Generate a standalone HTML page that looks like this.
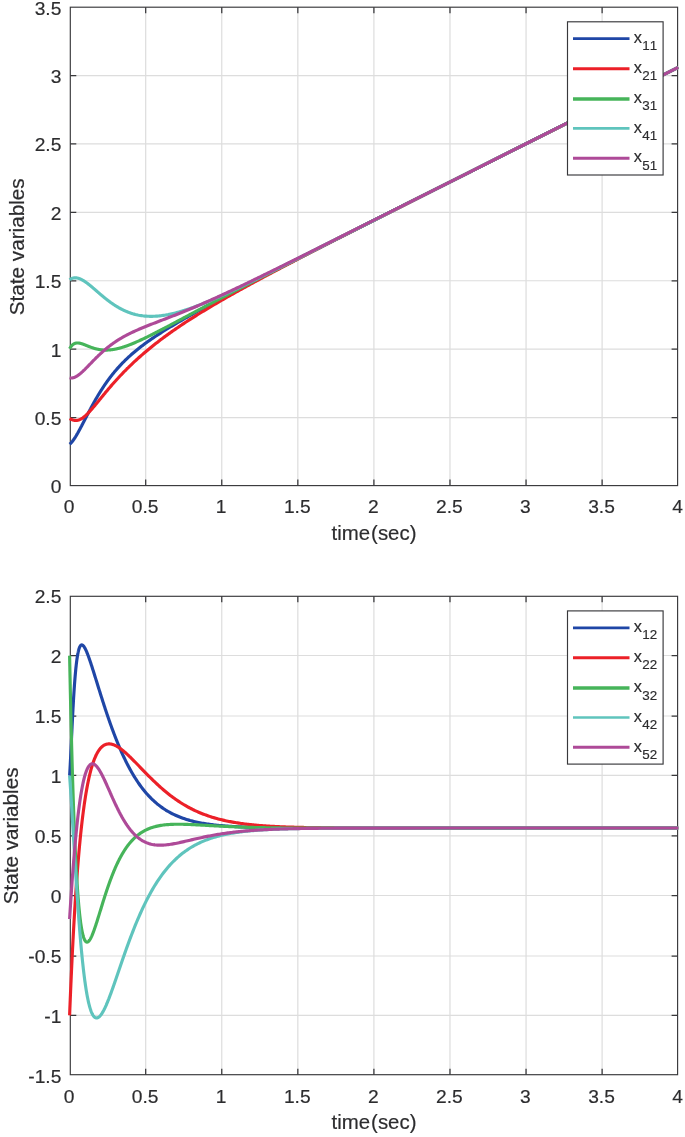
<!DOCTYPE html>
<html lang="en"><head><meta charset="utf-8"><title>State variables</title>
<style>html,body{margin:0;padding:0;background:#fff}body{width:685px;height:1137px;overflow:hidden}svg{display:block}</style>
</head><body>
<svg width="685" height="1137" viewBox="0 0 685 1137" font-family="'Liberation Sans', Arial, Helvetica, sans-serif" fill="#2c2c2e" style="font-kerning:none"><style>text{stroke:#2c2c2e;stroke-width:0.18px;paint-order:stroke}</style>
<rect width="685" height="1137" fill="#ffffff"/>
<g id="plot1">
<path d="M145.68,7.2 V485.6 M221.75,7.2 V485.6 M297.83,7.2 V485.6 M373.90,7.2 V485.6 M449.98,7.2 V485.6 M526.05,7.2 V485.6 M602.12,7.2 V485.6 M70.3,417.59 H677.6 M70.3,349.18 H677.6 M70.3,280.77 H677.6 M70.3,212.36 H677.6 M70.3,143.95 H677.6 M70.3,75.54 H677.6" stroke="#262626" stroke-opacity="0.155" stroke-width="1.2" fill="none"/>
<path d="M145.68,485.6 v-6 M145.68,7.2 v6 M221.75,485.6 v-6 M221.75,7.2 v6 M297.83,485.6 v-6 M297.83,7.2 v6 M373.90,485.6 v-6 M373.90,7.2 v6 M449.98,485.6 v-6 M449.98,7.2 v6 M526.05,485.6 v-6 M526.05,7.2 v6 M602.12,485.6 v-6 M602.12,7.2 v6 M70.3,417.59 h6 M677.6,417.59 h-6 M70.3,349.18 h6 M677.6,349.18 h-6 M70.3,280.77 h6 M677.6,280.77 h-6 M70.3,212.36 h6 M677.6,212.36 h-6 M70.3,143.95 h6 M677.6,143.95 h-6 M70.3,75.54 h6 M677.6,75.54 h-6" stroke="#38383b" stroke-width="1.25" fill="none"/>
<rect x="70.3" y="7.2" width="607.3000000000001" height="478.40000000000003" fill="none" stroke="#38383b" stroke-width="1.15"/>
<clipPath id="clip1"><rect x="67.3" y="7.2" width="612.3000000000001" height="478.40000000000003"/></clipPath>
<g clip-path="url(#clip1)" fill="none" stroke-width="3.15" stroke-linejoin="round" stroke-linecap="butt">
<path d="M69.60,444.32 L69.68,444.26 L69.75,444.20 L69.83,444.13 L69.90,444.07 L69.98,444.00 L70.06,443.93 L70.13,443.87 L70.21,443.80 L70.28,443.73 L70.36,443.65 L70.44,443.58 L70.51,443.51 L70.59,443.43 L70.67,443.35 L70.74,443.28 L70.82,443.20 L70.89,443.12 L70.97,443.04 L71.05,442.96 L71.12,442.88 L71.20,442.79 L71.27,442.71 L71.35,442.63 L71.43,442.54 L71.50,442.45 L71.58,442.37 L71.65,442.28 L71.73,442.19 L71.81,442.10 L71.88,442.01 L71.96,441.91 L72.03,441.82 L72.11,441.73 L72.19,441.63 L72.26,441.54 L72.34,441.44 L72.41,441.35 L72.49,441.25 L72.57,441.15 L72.64,441.05 L72.72,440.95 L72.80,440.85 L72.87,440.75 L72.95,440.65 L73.02,440.54 L73.10,440.44 L73.18,440.34 L73.25,440.23 L73.33,440.13 L73.40,440.02 L73.48,439.91 L73.56,439.80 L73.63,439.70 L73.71,439.59 L73.78,439.48 L73.86,439.37 L73.94,439.26 L74.01,439.14 L74.09,439.03 L74.16,438.92 L74.24,438.81 L74.32,438.69 L74.39,438.58 L74.47,438.46 L74.54,438.35 L74.62,438.23 L74.70,438.11 L74.77,437.99 L74.85,437.88 L74.93,437.76 L75.00,437.64 L75.08,437.52 L75.15,437.40 L75.23,437.28 L75.31,437.16 L75.38,437.04 L75.46,436.91 L75.53,436.79 L75.61,436.67 L75.69,436.54 L75.76,436.42 L75.84,436.29 L75.91,436.17 L75.99,436.04 L76.07,435.92 L76.14,435.79 L76.22,435.66 L76.29,435.54 L76.37,435.41 L76.45,435.28 L76.52,435.15 L76.60,435.02 L76.67,434.89 L76.75,434.76 L76.83,434.63 L76.90,434.50 L76.98,434.37 L77.06,434.24 L77.13,434.11 L77.21,433.98 L77.28,433.85 L77.36,433.71 L77.44,433.58 L77.51,433.45 L77.59,433.31 L77.66,433.18 L77.74,433.04 L77.82,432.91 L77.89,432.77 L77.97,432.64 L78.04,432.50 L78.12,432.37 L78.20,432.23 L78.27,432.09 L78.35,431.96 L78.42,431.82 L78.50,431.68 L78.58,431.55 L78.65,431.41 L78.73,431.27 L78.96,430.85 L79.19,430.43 L79.41,430.01 L79.64,429.59 L79.87,429.17 L80.10,428.74 L80.33,428.31 L80.55,427.88 L80.78,427.45 L81.01,427.02 L81.24,426.59 L81.47,426.15 L81.70,425.72 L81.92,425.28 L82.15,424.84 L82.38,424.40 L82.61,423.97 L82.84,423.53 L83.07,423.09 L83.29,422.65 L83.52,422.20 L83.75,421.76 L83.98,421.32 L84.21,420.88 L84.43,420.44 L84.66,419.99 L84.89,419.55 L85.12,419.11 L85.35,418.67 L85.58,418.22 L85.80,417.78 L86.03,417.34 L86.26,416.90 L86.49,416.46 L86.72,416.02 L86.95,415.58 L87.17,415.14 L87.40,414.70 L87.63,414.26 L87.86,413.82 L88.09,413.39 L88.31,412.95 L88.54,412.52 L88.77,412.08 L89.00,411.65 L89.23,411.21 L89.46,410.78 L89.68,410.35 L89.91,409.92 L90.14,409.49 L90.37,409.06 L90.60,408.64 L90.82,408.21 L91.05,407.78 L91.28,407.36 L91.51,406.94 L91.74,406.52 L91.97,406.10 L92.19,405.68 L92.42,405.26 L92.65,404.84 L92.88,404.43 L93.11,404.01 L93.34,403.60 L93.56,403.19 L93.79,402.78 L94.02,402.37 L94.25,401.97 L94.48,401.56 L94.70,401.16 L94.93,400.75 L95.16,400.35 L95.39,399.95 L95.62,399.55 L95.85,399.16 L96.07,398.76 L96.30,398.37 L96.53,397.97 L96.76,397.58 L96.99,397.19 L97.22,396.80 L97.44,396.42 L97.67,396.03 L97.90,395.65 L98.13,395.27 L98.36,394.89 L98.58,394.51 L98.81,394.13 L99.04,393.76 L99.27,393.38 L99.50,393.01 L99.73,392.64 L99.95,392.27 L100.18,391.90 L100.41,391.54 L100.64,391.17 L100.87,390.81 L101.10,390.45 L101.32,390.09 L101.55,389.73 L101.78,389.37 L102.01,389.02 L102.24,388.67 L102.46,388.31 L102.69,387.96 L102.92,387.62 L103.15,387.27 L103.38,386.92 L103.61,386.58 L103.83,386.24 L104.06,385.90 L104.29,385.56 L104.52,385.22 L104.75,384.88 L104.97,384.55 L105.20,384.22 L105.43,383.88 L105.66,383.55 L105.89,383.23 L106.12,382.90 L106.34,382.57 L106.57,382.25 L106.80,381.93 L107.03,381.61 L107.26,381.29 L107.49,380.97 L107.71,380.65 L107.94,380.34 L108.17,380.03 L108.40,379.71 L108.63,379.40 L108.85,379.09 L109.08,378.79 L109.31,378.48 L109.54,378.18 L109.77,377.87 L110.00,377.57 L110.22,377.27 L110.45,376.97 L110.68,376.67 L110.91,376.38 L111.14,376.08 L111.37,375.79 L111.59,375.50 L111.82,375.21 L112.05,374.92 L112.28,374.63 L112.51,374.34 L112.73,374.06 L112.96,373.77 L113.19,373.49 L113.42,373.21 L113.65,372.93 L113.88,372.65 L114.10,372.38 L114.33,372.10 L114.56,371.82 L114.79,371.55 L115.02,371.28 L115.25,371.01 L115.47,370.74 L115.70,370.47 L115.93,370.20 L116.16,369.94 L116.39,369.67 L116.61,369.41 L116.84,369.15 L117.07,368.88 L117.30,368.62 L117.53,368.37 L117.76,368.11 L117.98,367.85 L118.21,367.60 L118.44,367.34 L118.67,367.09 L118.90,366.84 L119.12,366.59 L119.35,366.34 L119.58,366.09 L119.81,365.84 L120.04,365.59 L120.27,365.35 L120.49,365.10 L120.72,364.86 L120.95,364.62 L121.18,364.38 L121.41,364.14 L121.64,363.90 L121.86,363.66 L122.09,363.42 L122.32,363.19 L122.55,362.95 L122.78,362.72 L123.00,362.49 L123.23,362.25 L123.46,362.02 L123.69,361.79 L123.92,361.56 L124.15,361.34 L124.37,361.11 L124.60,360.88 L124.83,360.66 L125.06,360.43 L125.29,360.21 L125.52,359.99 L125.74,359.76 L125.97,359.54 L126.20,359.32 L126.43,359.10 L126.66,358.89 L126.88,358.67 L127.11,358.45 L127.34,358.24 L127.57,358.02 L127.80,357.81 L128.03,357.59 L128.25,357.38 L128.48,357.17 L128.71,356.96 L128.94,356.75 L129.17,356.54 L129.39,356.33 L129.62,356.12 L129.85,355.92 L130.08,355.71 L130.31,355.51 L130.46,355.37 L131.68,354.29 L132.89,353.23 L134.11,352.19 L135.33,351.17 L136.55,350.17 L137.76,349.18 L138.98,348.21 L140.20,347.26 L141.41,346.32 L142.63,345.39 L143.85,344.48 L145.07,343.58 L146.28,342.70 L147.50,341.82 L148.72,340.95 L149.94,340.10 L151.15,339.26 L152.37,338.42 L153.59,337.60 L154.80,336.78 L156.02,335.97 L157.24,335.17 L158.46,334.37 L159.67,333.59 L160.89,332.81 L162.11,332.03 L163.32,331.27 L164.54,330.50 L165.76,329.75 L166.98,329.00 L168.19,328.25 L169.41,327.51 L170.63,326.77 L171.84,326.04 L173.06,325.31 L174.28,324.59 L175.50,323.87 L176.71,323.15 L177.93,322.44 L179.15,321.73 L180.37,321.03 L181.58,320.32 L182.80,319.62 L184.02,318.93 L185.23,318.23 L186.45,317.54 L187.67,316.85 L188.89,316.16 L190.10,315.48 L191.32,314.79 L192.54,314.11 L193.75,313.43 L194.97,312.76 L196.19,312.08 L197.41,311.41 L198.62,310.74 L199.84,310.07 L201.06,309.40 L202.27,308.73 L203.49,308.07 L204.71,307.40 L205.93,306.74 L207.14,306.08 L208.36,305.42 L209.58,304.76 L210.80,304.11 L212.01,303.45 L213.23,302.79 L214.45,302.14 L215.66,301.49 L216.88,300.84 L218.10,300.18 L219.32,299.53 L220.53,298.89 L221.75,298.24 L222.97,297.59 L224.18,296.94 L225.40,296.30 L226.62,295.65 L227.84,295.01 L229.05,294.37 L230.27,293.72 L231.49,293.08 L232.70,292.44 L233.92,291.80 L235.14,291.16 L236.36,290.52 L237.57,289.88 L238.79,289.25 L240.01,288.61 L241.23,287.97 L242.44,287.34 L243.66,286.70 L244.88,286.06 L246.09,285.43 L247.31,284.80 L248.53,284.16 L249.75,283.53 L250.96,282.90 L252.18,282.27 L253.40,281.63 L254.61,281.00 L255.83,280.37 L257.05,279.74 L258.27,279.11 L259.48,278.48 L260.70,277.85 L261.92,277.22 L263.13,276.60 L264.35,275.97 L265.57,275.34 L266.79,274.71 L268.00,274.09 L269.22,273.46 L270.44,272.83 L271.66,272.21 L272.87,271.58 L274.09,270.95 L275.31,270.33 L276.52,269.70 L277.74,269.08 L278.96,268.46 L280.18,267.83 L281.39,267.21 L282.61,266.58 L283.83,265.96 L285.04,265.34 L286.26,264.72 L287.48,264.09 L288.70,263.47 L289.91,262.85 L291.13,262.23 L292.35,261.61 L293.56,260.98 L294.78,260.36 L296.00,259.74 L297.22,259.12 L298.43,258.50 L299.65,257.88 L300.87,257.26 L302.09,256.64 L303.30,256.02 L304.52,255.40 L305.74,254.78 L306.95,254.16 L308.17,253.54 L309.39,252.92 L310.61,252.30 L311.82,251.69 L313.04,251.07 L314.26,250.45 L315.47,249.83 L316.69,249.21 L317.91,248.59 L319.13,247.98 L320.34,247.36 L321.56,246.74 L322.78,246.12 L323.99,245.51 L325.21,244.89 L326.43,244.27 L327.65,243.66 L328.86,243.04 L330.08,242.42 L331.30,241.81 L332.52,241.19 L333.73,240.57 L334.95,239.96 L336.17,239.34 L337.38,238.72 L338.60,238.11 L339.82,237.49 L341.04,236.88 L342.25,236.26 L343.47,235.65 L373.90,220.28 L404.33,204.95 L434.76,189.64 L465.19,174.34 L495.62,159.04 L526.05,143.75 L556.48,128.47 L586.91,113.18 L617.34,97.90 L647.77,82.61 L678.20,67.33" stroke="#1f46a6"/>
<path d="M69.60,418.59 L69.68,418.63 L69.75,418.66 L69.83,418.70 L69.90,418.74 L69.98,418.77 L70.06,418.81 L70.13,418.85 L70.21,418.88 L70.28,418.92 L70.36,418.96 L70.44,418.99 L70.51,419.03 L70.59,419.07 L70.67,419.10 L70.74,419.14 L70.82,419.17 L70.89,419.21 L70.97,419.24 L71.05,419.28 L71.12,419.31 L71.20,419.35 L71.27,419.38 L71.35,419.41 L71.43,419.45 L71.50,419.48 L71.58,419.51 L71.65,419.54 L71.73,419.58 L71.81,419.61 L71.88,419.64 L71.96,419.67 L72.03,419.70 L72.11,419.73 L72.19,419.76 L72.26,419.78 L72.34,419.81 L72.41,419.84 L72.49,419.87 L72.57,419.89 L72.64,419.92 L72.72,419.95 L72.80,419.97 L72.87,420.00 L72.95,420.02 L73.02,420.04 L73.10,420.07 L73.18,420.09 L73.25,420.11 L73.33,420.13 L73.40,420.15 L73.48,420.17 L73.56,420.19 L73.63,420.21 L73.71,420.23 L73.78,420.25 L73.86,420.26 L73.94,420.28 L74.01,420.29 L74.09,420.31 L74.16,420.32 L74.24,420.34 L74.32,420.35 L74.39,420.36 L74.47,420.38 L74.54,420.39 L74.62,420.40 L74.70,420.41 L74.77,420.42 L74.85,420.42 L74.93,420.43 L75.00,420.44 L75.08,420.45 L75.15,420.45 L75.23,420.46 L75.31,420.46 L75.38,420.47 L75.46,420.47 L75.53,420.47 L75.61,420.47 L75.69,420.48 L75.76,420.48 L75.84,420.48 L75.91,420.48 L75.99,420.47 L76.07,420.47 L76.14,420.47 L76.22,420.47 L76.29,420.46 L76.37,420.46 L76.45,420.45 L76.52,420.45 L76.60,420.44 L76.67,420.43 L76.75,420.42 L76.83,420.42 L76.90,420.41 L76.98,420.40 L77.06,420.38 L77.13,420.37 L77.21,420.36 L77.28,420.35 L77.36,420.34 L77.44,420.32 L77.51,420.31 L77.59,420.29 L77.66,420.28 L77.74,420.26 L77.82,420.24 L77.89,420.22 L77.97,420.20 L78.04,420.19 L78.12,420.17 L78.20,420.14 L78.27,420.12 L78.35,420.10 L78.42,420.08 L78.50,420.06 L78.58,420.03 L78.65,420.01 L78.73,419.98 L78.96,419.90 L79.19,419.82 L79.41,419.73 L79.64,419.64 L79.87,419.54 L80.10,419.43 L80.33,419.32 L80.55,419.20 L80.78,419.08 L81.01,418.96 L81.24,418.83 L81.47,418.69 L81.70,418.55 L81.92,418.41 L82.15,418.26 L82.38,418.11 L82.61,417.95 L82.84,417.79 L83.07,417.62 L83.29,417.45 L83.52,417.28 L83.75,417.10 L83.98,416.92 L84.21,416.74 L84.43,416.55 L84.66,416.36 L84.89,416.16 L85.12,415.97 L85.35,415.77 L85.58,415.56 L85.80,415.35 L86.03,415.14 L86.26,414.93 L86.49,414.71 L86.72,414.50 L86.95,414.27 L87.17,414.05 L87.40,413.82 L87.63,413.59 L87.86,413.36 L88.09,413.13 L88.31,412.89 L88.54,412.66 L88.77,412.42 L89.00,412.18 L89.23,411.93 L89.46,411.69 L89.68,411.44 L89.91,411.19 L90.14,410.94 L90.37,410.69 L90.60,410.43 L90.82,410.18 L91.05,409.92 L91.28,409.66 L91.51,409.41 L91.74,409.14 L91.97,408.88 L92.19,408.62 L92.42,408.36 L92.65,408.09 L92.88,407.82 L93.11,407.56 L93.34,407.29 L93.56,407.02 L93.79,406.75 L94.02,406.48 L94.25,406.21 L94.48,405.94 L94.70,405.66 L94.93,405.39 L95.16,405.12 L95.39,404.84 L95.62,404.57 L95.85,404.29 L96.07,404.01 L96.30,403.74 L96.53,403.46 L96.76,403.18 L96.99,402.91 L97.22,402.63 L97.44,402.35 L97.67,402.07 L97.90,401.79 L98.13,401.51 L98.36,401.24 L98.58,400.96 L98.81,400.68 L99.04,400.40 L99.27,400.12 L99.50,399.84 L99.73,399.56 L99.95,399.28 L100.18,399.00 L100.41,398.72 L100.64,398.44 L100.87,398.16 L101.10,397.88 L101.32,397.60 L101.55,397.32 L101.78,397.05 L102.01,396.77 L102.24,396.49 L102.46,396.21 L102.69,395.93 L102.92,395.65 L103.15,395.38 L103.38,395.10 L103.61,394.82 L103.83,394.54 L104.06,394.27 L104.29,393.99 L104.52,393.72 L104.75,393.44 L104.97,393.16 L105.20,392.89 L105.43,392.61 L105.66,392.34 L105.89,392.07 L106.12,391.79 L106.34,391.52 L106.57,391.25 L106.80,390.97 L107.03,390.70 L107.26,390.43 L107.49,390.16 L107.71,389.89 L107.94,389.62 L108.17,389.35 L108.40,389.08 L108.63,388.81 L108.85,388.54 L109.08,388.27 L109.31,388.00 L109.54,387.74 L109.77,387.47 L110.00,387.20 L110.22,386.94 L110.45,386.67 L110.68,386.41 L110.91,386.14 L111.14,385.88 L111.37,385.62 L111.59,385.35 L111.82,385.09 L112.05,384.83 L112.28,384.57 L112.51,384.31 L112.73,384.05 L112.96,383.79 L113.19,383.53 L113.42,383.27 L113.65,383.01 L113.88,382.75 L114.10,382.50 L114.33,382.24 L114.56,381.98 L114.79,381.73 L115.02,381.47 L115.25,381.22 L115.47,380.96 L115.70,380.71 L115.93,380.46 L116.16,380.20 L116.39,379.95 L116.61,379.70 L116.84,379.45 L117.07,379.20 L117.30,378.95 L117.53,378.70 L117.76,378.45 L117.98,378.20 L118.21,377.96 L118.44,377.71 L118.67,377.46 L118.90,377.22 L119.12,376.97 L119.35,376.73 L119.58,376.48 L119.81,376.24 L120.04,376.00 L120.27,375.75 L120.49,375.51 L120.72,375.27 L120.95,375.03 L121.18,374.79 L121.41,374.55 L121.64,374.31 L121.86,374.07 L122.09,373.83 L122.32,373.59 L122.55,373.35 L122.78,373.12 L123.00,372.88 L123.23,372.64 L123.46,372.41 L123.69,372.17 L123.92,371.94 L124.15,371.71 L124.37,371.47 L124.60,371.24 L124.83,371.01 L125.06,370.78 L125.29,370.54 L125.52,370.31 L125.74,370.08 L125.97,369.85 L126.20,369.62 L126.43,369.40 L126.66,369.17 L126.88,368.94 L127.11,368.71 L127.34,368.48 L127.57,368.26 L127.80,368.03 L128.03,367.81 L128.25,367.58 L128.48,367.36 L128.71,367.13 L128.94,366.91 L129.17,366.69 L129.39,366.47 L129.62,366.24 L129.85,366.02 L130.08,365.80 L130.31,365.58 L130.46,365.43 L131.68,364.27 L132.89,363.11 L134.11,361.97 L135.33,360.84 L136.55,359.73 L137.76,358.63 L138.98,357.53 L140.20,356.45 L141.41,355.38 L142.63,354.33 L143.85,353.28 L145.07,352.24 L146.28,351.21 L147.50,350.20 L148.72,349.19 L149.94,348.19 L151.15,347.21 L152.37,346.23 L153.59,345.26 L154.80,344.30 L156.02,343.34 L157.24,342.40 L158.46,341.46 L159.67,340.53 L160.89,339.61 L162.11,338.70 L163.32,337.79 L164.54,336.89 L165.76,336.00 L166.98,335.12 L168.19,334.24 L169.41,333.37 L170.63,332.50 L171.84,331.64 L173.06,330.79 L174.28,329.94 L175.50,329.10 L176.71,328.26 L177.93,327.43 L179.15,326.60 L180.37,325.78 L181.58,324.97 L182.80,324.16 L184.02,323.35 L185.23,322.55 L186.45,321.75 L187.67,320.96 L188.89,320.17 L190.10,319.39 L191.32,318.61 L192.54,317.84 L193.75,317.07 L194.97,316.30 L196.19,315.54 L197.41,314.78 L198.62,314.02 L199.84,313.27 L201.06,312.52 L202.27,311.77 L203.49,311.03 L204.71,310.29 L205.93,309.55 L207.14,308.82 L208.36,308.09 L209.58,307.36 L210.80,306.64 L212.01,305.92 L213.23,305.20 L214.45,304.48 L215.66,303.77 L216.88,303.05 L218.10,302.35 L219.32,301.64 L220.53,300.93 L221.75,300.23 L222.97,299.53 L224.18,298.83 L225.40,298.14 L226.62,297.45 L227.84,296.75 L229.05,296.06 L230.27,295.38 L231.49,294.69 L232.70,294.01 L233.92,293.32 L235.14,292.64 L236.36,291.96 L237.57,291.29 L238.79,290.61 L240.01,289.94 L241.23,289.26 L242.44,288.59 L243.66,287.92 L244.88,287.25 L246.09,286.59 L247.31,285.92 L248.53,285.26 L249.75,284.59 L250.96,283.93 L252.18,283.27 L253.40,282.61 L254.61,281.95 L255.83,281.30 L257.05,280.64 L258.27,279.99 L259.48,279.33 L260.70,278.68 L261.92,278.03 L263.13,277.38 L264.35,276.73 L265.57,276.08 L266.79,275.43 L268.00,274.78 L269.22,274.14 L270.44,273.49 L271.66,272.85 L272.87,272.20 L274.09,271.56 L275.31,270.92 L276.52,270.28 L277.74,269.64 L278.96,269.00 L280.18,268.36 L281.39,267.72 L282.61,267.08 L283.83,266.44 L285.04,265.81 L286.26,265.17 L287.48,264.54 L288.70,263.90 L289.91,263.27 L291.13,262.63 L292.35,262.00 L293.56,261.37 L294.78,260.73 L296.00,260.10 L297.22,259.47 L298.43,258.84 L299.65,258.21 L300.87,257.58 L302.09,256.95 L303.30,256.32 L304.52,255.69 L305.74,255.07 L306.95,254.44 L308.17,253.81 L309.39,253.18 L310.61,252.56 L311.82,251.93 L313.04,251.31 L314.26,250.68 L315.47,250.06 L316.69,249.43 L317.91,248.81 L319.13,248.18 L320.34,247.56 L321.56,246.93 L322.78,246.31 L323.99,245.69 L325.21,245.07 L326.43,244.44 L327.65,243.82 L328.86,243.20 L330.08,242.58 L331.30,241.96 L332.52,241.34 L333.73,240.72 L334.95,240.09 L336.17,239.47 L337.38,238.85 L338.60,238.23 L339.82,237.61 L341.04,237.00 L342.25,236.38 L343.47,235.76 L373.90,220.33 L404.33,204.97 L434.76,189.64 L465.19,174.34 L495.62,159.04 L526.05,143.75 L556.48,128.47 L586.91,113.18 L617.34,97.90 L647.77,82.61 L678.20,67.33" stroke="#ec2028"/>
<path d="M69.60,348.82 L69.68,348.68 L69.75,348.55 L69.83,348.41 L69.90,348.28 L69.98,348.14 L70.06,348.01 L70.13,347.89 L70.21,347.76 L70.28,347.64 L70.36,347.52 L70.44,347.40 L70.51,347.28 L70.59,347.17 L70.67,347.06 L70.74,346.95 L70.82,346.84 L70.89,346.73 L70.97,346.63 L71.05,346.53 L71.12,346.43 L71.20,346.33 L71.27,346.23 L71.35,346.14 L71.43,346.04 L71.50,345.95 L71.58,345.86 L71.65,345.77 L71.73,345.69 L71.81,345.60 L71.88,345.52 L71.96,345.44 L72.03,345.36 L72.11,345.28 L72.19,345.21 L72.26,345.13 L72.34,345.06 L72.41,344.99 L72.49,344.92 L72.57,344.85 L72.64,344.79 L72.72,344.72 L72.80,344.66 L72.87,344.60 L72.95,344.53 L73.02,344.48 L73.10,344.42 L73.18,344.36 L73.25,344.31 L73.33,344.25 L73.40,344.20 L73.48,344.15 L73.56,344.10 L73.63,344.05 L73.71,344.00 L73.78,343.96 L73.86,343.91 L73.94,343.87 L74.01,343.83 L74.09,343.79 L74.16,343.75 L74.24,343.71 L74.32,343.67 L74.39,343.63 L74.47,343.60 L74.54,343.57 L74.62,343.53 L74.70,343.50 L74.77,343.47 L74.85,343.44 L74.93,343.41 L75.00,343.38 L75.08,343.36 L75.15,343.33 L75.23,343.31 L75.31,343.28 L75.38,343.26 L75.46,343.24 L75.53,343.22 L75.61,343.20 L75.69,343.18 L75.76,343.16 L75.84,343.14 L75.91,343.13 L75.99,343.11 L76.07,343.10 L76.14,343.08 L76.22,343.07 L76.29,343.06 L76.37,343.05 L76.45,343.04 L76.52,343.03 L76.60,343.02 L76.67,343.01 L76.75,343.00 L76.83,343.00 L76.90,342.99 L76.98,342.99 L77.06,342.98 L77.13,342.98 L77.21,342.97 L77.28,342.97 L77.36,342.97 L77.44,342.97 L77.51,342.97 L77.59,342.97 L77.66,342.97 L77.74,342.97 L77.82,342.97 L77.89,342.98 L77.97,342.98 L78.04,342.98 L78.12,342.99 L78.20,342.99 L78.27,343.00 L78.35,343.01 L78.42,343.01 L78.50,343.02 L78.58,343.03 L78.65,343.04 L78.73,343.05 L78.96,343.08 L79.19,343.11 L79.41,343.15 L79.64,343.19 L79.87,343.24 L80.10,343.29 L80.33,343.34 L80.55,343.40 L80.78,343.45 L81.01,343.52 L81.24,343.58 L81.47,343.65 L81.70,343.72 L81.92,343.79 L82.15,343.86 L82.38,343.94 L82.61,344.02 L82.84,344.10 L83.07,344.18 L83.29,344.26 L83.52,344.35 L83.75,344.43 L83.98,344.52 L84.21,344.60 L84.43,344.69 L84.66,344.78 L84.89,344.87 L85.12,344.96 L85.35,345.05 L85.58,345.14 L85.80,345.24 L86.03,345.33 L86.26,345.42 L86.49,345.51 L86.72,345.60 L86.95,345.70 L87.17,345.79 L87.40,345.88 L87.63,345.97 L87.86,346.07 L88.09,346.16 L88.31,346.25 L88.54,346.34 L88.77,346.43 L89.00,346.52 L89.23,346.61 L89.46,346.70 L89.68,346.78 L89.91,346.87 L90.14,346.96 L90.37,347.04 L90.60,347.13 L90.82,347.21 L91.05,347.30 L91.28,347.38 L91.51,347.46 L91.74,347.54 L91.97,347.62 L92.19,347.70 L92.42,347.78 L92.65,347.85 L92.88,347.93 L93.11,348.00 L93.34,348.07 L93.56,348.15 L93.79,348.22 L94.02,348.29 L94.25,348.36 L94.48,348.42 L94.70,348.49 L94.93,348.55 L95.16,348.62 L95.39,348.68 L95.62,348.74 L95.85,348.80 L96.07,348.86 L96.30,348.91 L96.53,348.97 L96.76,349.02 L96.99,349.08 L97.22,349.13 L97.44,349.18 L97.67,349.23 L97.90,349.28 L98.13,349.32 L98.36,349.37 L98.58,349.41 L98.81,349.45 L99.04,349.49 L99.27,349.53 L99.50,349.57 L99.73,349.61 L99.95,349.64 L100.18,349.68 L100.41,349.71 L100.64,349.74 L100.87,349.77 L101.10,349.80 L101.32,349.82 L101.55,349.85 L101.78,349.87 L102.01,349.90 L102.24,349.92 L102.46,349.94 L102.69,349.96 L102.92,349.98 L103.15,349.99 L103.38,350.01 L103.61,350.02 L103.83,350.03 L104.06,350.04 L104.29,350.05 L104.52,350.06 L104.75,350.07 L104.97,350.08 L105.20,350.08 L105.43,350.08 L105.66,350.09 L105.89,350.09 L106.12,350.09 L106.34,350.08 L106.57,350.08 L106.80,350.08 L107.03,350.07 L107.26,350.07 L107.49,350.06 L107.71,350.05 L107.94,350.04 L108.17,350.03 L108.40,350.01 L108.63,350.00 L108.85,349.98 L109.08,349.97 L109.31,349.95 L109.54,349.93 L109.77,349.91 L110.00,349.89 L110.22,349.87 L110.45,349.85 L110.68,349.82 L110.91,349.80 L111.14,349.77 L111.37,349.75 L111.59,349.72 L111.82,349.69 L112.05,349.66 L112.28,349.63 L112.51,349.59 L112.73,349.56 L112.96,349.53 L113.19,349.49 L113.42,349.45 L113.65,349.42 L113.88,349.38 L114.10,349.34 L114.33,349.30 L114.56,349.26 L114.79,349.21 L115.02,349.17 L115.25,349.13 L115.47,349.08 L115.70,349.03 L115.93,348.99 L116.16,348.94 L116.39,348.89 L116.61,348.84 L116.84,348.79 L117.07,348.74 L117.30,348.69 L117.53,348.63 L117.76,348.58 L117.98,348.52 L118.21,348.47 L118.44,348.41 L118.67,348.36 L118.90,348.30 L119.12,348.24 L119.35,348.18 L119.58,348.12 L119.81,348.06 L120.04,348.00 L120.27,347.93 L120.49,347.87 L120.72,347.80 L120.95,347.74 L121.18,347.67 L121.41,347.61 L121.64,347.54 L121.86,347.47 L122.09,347.40 L122.32,347.34 L122.55,347.27 L122.78,347.19 L123.00,347.12 L123.23,347.05 L123.46,346.98 L123.69,346.91 L123.92,346.83 L124.15,346.76 L124.37,346.68 L124.60,346.61 L124.83,346.53 L125.06,346.45 L125.29,346.38 L125.52,346.30 L125.74,346.22 L125.97,346.14 L126.20,346.06 L126.43,345.98 L126.66,345.90 L126.88,345.82 L127.11,345.74 L127.34,345.65 L127.57,345.57 L127.80,345.49 L128.03,345.40 L128.25,345.32 L128.48,345.23 L128.71,345.15 L128.94,345.06 L129.17,344.97 L129.39,344.89 L129.62,344.80 L129.85,344.71 L130.08,344.62 L130.31,344.53 L130.46,344.47 L131.68,343.99 L132.89,343.49 L134.11,342.98 L135.33,342.46 L136.55,341.93 L137.76,341.39 L138.98,340.85 L140.20,340.29 L141.41,339.73 L142.63,339.16 L143.85,338.58 L145.07,337.99 L146.28,337.40 L147.50,336.81 L148.72,336.21 L149.94,335.60 L151.15,334.99 L152.37,334.38 L153.59,333.76 L154.80,333.14 L156.02,332.52 L157.24,331.89 L158.46,331.27 L159.67,330.63 L160.89,330.00 L162.11,329.36 L163.32,328.73 L164.54,328.09 L165.76,327.45 L166.98,326.81 L168.19,326.16 L169.41,325.52 L170.63,324.87 L171.84,324.23 L173.06,323.58 L174.28,322.93 L175.50,322.29 L176.71,321.64 L177.93,320.99 L179.15,320.34 L180.37,319.69 L181.58,319.04 L182.80,318.40 L184.02,317.75 L185.23,317.10 L186.45,316.45 L187.67,315.80 L188.89,315.15 L190.10,314.50 L191.32,313.85 L192.54,313.21 L193.75,312.56 L194.97,311.91 L196.19,311.26 L197.41,310.62 L198.62,309.97 L199.84,309.32 L201.06,308.68 L202.27,308.03 L203.49,307.39 L204.71,306.74 L205.93,306.10 L207.14,305.46 L208.36,304.81 L209.58,304.17 L210.80,303.53 L212.01,302.89 L213.23,302.25 L214.45,301.61 L215.66,300.97 L216.88,300.33 L218.10,299.69 L219.32,299.05 L220.53,298.41 L221.75,297.77 L222.97,297.14 L224.18,296.50 L225.40,295.86 L226.62,295.23 L227.84,294.59 L229.05,293.96 L230.27,293.32 L231.49,292.69 L232.70,292.06 L233.92,291.42 L235.14,290.79 L236.36,290.16 L237.57,289.53 L238.79,288.89 L240.01,288.26 L241.23,287.63 L242.44,287.00 L243.66,286.37 L244.88,285.74 L246.09,285.11 L247.31,284.49 L248.53,283.86 L249.75,283.23 L250.96,282.60 L252.18,281.98 L253.40,281.35 L254.61,280.72 L255.83,280.10 L257.05,279.47 L258.27,278.84 L259.48,278.22 L260.70,277.59 L261.92,276.97 L263.13,276.34 L264.35,275.72 L265.57,275.10 L266.79,274.47 L268.00,273.85 L269.22,273.23 L270.44,272.60 L271.66,271.98 L272.87,271.36 L274.09,270.74 L275.31,270.12 L276.52,269.49 L277.74,268.87 L278.96,268.25 L280.18,267.63 L281.39,267.01 L282.61,266.39 L283.83,265.77 L285.04,265.15 L286.26,264.53 L287.48,263.91 L288.70,263.29 L289.91,262.67 L291.13,262.05 L292.35,261.43 L293.56,260.81 L294.78,260.20 L296.00,259.58 L297.22,258.96 L298.43,258.34 L299.65,257.72 L300.87,257.11 L302.09,256.49 L303.30,255.87 L304.52,255.25 L305.74,254.64 L306.95,254.02 L308.17,253.40 L309.39,252.79 L310.61,252.17 L311.82,251.55 L313.04,250.94 L314.26,250.32 L315.47,249.70 L316.69,249.09 L317.91,248.47 L319.13,247.86 L320.34,247.24 L321.56,246.62 L322.78,246.01 L323.99,245.39 L325.21,244.78 L326.43,244.16 L327.65,243.55 L328.86,242.93 L330.08,242.32 L331.30,241.70 L332.52,241.09 L333.73,240.47 L334.95,239.86 L336.17,239.24 L337.38,238.63 L338.60,238.02 L339.82,237.40 L341.04,236.79 L342.25,236.17 L343.47,235.56 L373.90,220.22 L404.33,204.91 L434.76,189.61 L465.19,174.32 L495.62,159.03 L526.05,143.75 L556.48,128.46 L586.91,113.18 L617.34,97.90 L647.77,82.61 L678.20,67.33" stroke="#46b45a"/>
<path d="M69.60,279.81 L69.68,279.75 L69.75,279.70 L69.83,279.64 L69.90,279.59 L69.98,279.53 L70.06,279.48 L70.13,279.43 L70.21,279.38 L70.28,279.33 L70.36,279.28 L70.44,279.23 L70.51,279.18 L70.59,279.14 L70.67,279.09 L70.74,279.05 L70.82,279.00 L70.89,278.96 L70.97,278.92 L71.05,278.88 L71.12,278.84 L71.20,278.80 L71.27,278.76 L71.35,278.72 L71.43,278.69 L71.50,278.65 L71.58,278.61 L71.65,278.58 L71.73,278.55 L71.81,278.51 L71.88,278.48 L71.96,278.45 L72.03,278.42 L72.11,278.39 L72.19,278.36 L72.26,278.34 L72.34,278.31 L72.41,278.28 L72.49,278.26 L72.57,278.23 L72.64,278.21 L72.72,278.19 L72.80,278.16 L72.87,278.14 L72.95,278.12 L73.02,278.10 L73.10,278.08 L73.18,278.06 L73.25,278.04 L73.33,278.03 L73.40,278.01 L73.48,278.00 L73.56,277.98 L73.63,277.97 L73.71,277.95 L73.78,277.94 L73.86,277.93 L73.94,277.92 L74.01,277.90 L74.09,277.89 L74.16,277.89 L74.24,277.88 L74.32,277.87 L74.39,277.86 L74.47,277.85 L74.54,277.85 L74.62,277.84 L74.70,277.84 L74.77,277.83 L74.85,277.83 L74.93,277.83 L75.00,277.82 L75.08,277.82 L75.15,277.82 L75.23,277.82 L75.31,277.82 L75.38,277.82 L75.46,277.82 L75.53,277.83 L75.61,277.83 L75.69,277.83 L75.76,277.84 L75.84,277.84 L75.91,277.84 L75.99,277.85 L76.07,277.86 L76.14,277.86 L76.22,277.87 L76.29,277.88 L76.37,277.89 L76.45,277.90 L76.52,277.90 L76.60,277.91 L76.67,277.93 L76.75,277.94 L76.83,277.95 L76.90,277.96 L76.98,277.97 L77.06,277.99 L77.13,278.00 L77.21,278.01 L77.28,278.03 L77.36,278.04 L77.44,278.06 L77.51,278.08 L77.59,278.09 L77.66,278.11 L77.74,278.13 L77.82,278.15 L77.89,278.17 L77.97,278.18 L78.04,278.20 L78.12,278.22 L78.20,278.24 L78.27,278.27 L78.35,278.29 L78.42,278.31 L78.50,278.33 L78.58,278.36 L78.65,278.38 L78.73,278.40 L78.96,278.48 L79.19,278.56 L79.41,278.64 L79.64,278.72 L79.87,278.81 L80.10,278.91 L80.33,279.00 L80.55,279.10 L80.78,279.21 L81.01,279.31 L81.24,279.42 L81.47,279.54 L81.70,279.65 L81.92,279.77 L82.15,279.89 L82.38,280.02 L82.61,280.15 L82.84,280.28 L83.07,280.41 L83.29,280.54 L83.52,280.68 L83.75,280.82 L83.98,280.97 L84.21,281.11 L84.43,281.26 L84.66,281.41 L84.89,281.56 L85.12,281.71 L85.35,281.87 L85.58,282.03 L85.80,282.19 L86.03,282.35 L86.26,282.51 L86.49,282.67 L86.72,282.84 L86.95,283.01 L87.17,283.18 L87.40,283.35 L87.63,283.52 L87.86,283.70 L88.09,283.87 L88.31,284.05 L88.54,284.23 L88.77,284.41 L89.00,284.59 L89.23,284.77 L89.46,284.95 L89.68,285.13 L89.91,285.32 L90.14,285.50 L90.37,285.69 L90.60,285.88 L90.82,286.07 L91.05,286.25 L91.28,286.44 L91.51,286.63 L91.74,286.83 L91.97,287.02 L92.19,287.21 L92.42,287.40 L92.65,287.60 L92.88,287.79 L93.11,287.99 L93.34,288.18 L93.56,288.38 L93.79,288.57 L94.02,288.77 L94.25,288.96 L94.48,289.16 L94.70,289.36 L94.93,289.55 L95.16,289.75 L95.39,289.95 L95.62,290.15 L95.85,290.35 L96.07,290.54 L96.30,290.74 L96.53,290.94 L96.76,291.14 L96.99,291.33 L97.22,291.53 L97.44,291.73 L97.67,291.93 L97.90,292.13 L98.13,292.32 L98.36,292.52 L98.58,292.72 L98.81,292.91 L99.04,293.11 L99.27,293.31 L99.50,293.50 L99.73,293.70 L99.95,293.90 L100.18,294.09 L100.41,294.29 L100.64,294.48 L100.87,294.67 L101.10,294.87 L101.32,295.06 L101.55,295.25 L101.78,295.45 L102.01,295.64 L102.24,295.83 L102.46,296.02 L102.69,296.21 L102.92,296.40 L103.15,296.59 L103.38,296.78 L103.61,296.97 L103.83,297.16 L104.06,297.34 L104.29,297.53 L104.52,297.72 L104.75,297.90 L104.97,298.09 L105.20,298.27 L105.43,298.45 L105.66,298.63 L105.89,298.82 L106.12,299.00 L106.34,299.18 L106.57,299.36 L106.80,299.54 L107.03,299.71 L107.26,299.89 L107.49,300.07 L107.71,300.24 L107.94,300.42 L108.17,300.59 L108.40,300.77 L108.63,300.94 L108.85,301.11 L109.08,301.28 L109.31,301.45 L109.54,301.62 L109.77,301.79 L110.00,301.96 L110.22,302.12 L110.45,302.29 L110.68,302.45 L110.91,302.62 L111.14,302.78 L111.37,302.94 L111.59,303.11 L111.82,303.27 L112.05,303.42 L112.28,303.58 L112.51,303.74 L112.73,303.90 L112.96,304.05 L113.19,304.21 L113.42,304.36 L113.65,304.51 L113.88,304.67 L114.10,304.82 L114.33,304.97 L114.56,305.12 L114.79,305.26 L115.02,305.41 L115.25,305.56 L115.47,305.70 L115.70,305.85 L115.93,305.99 L116.16,306.13 L116.39,306.27 L116.61,306.41 L116.84,306.55 L117.07,306.69 L117.30,306.83 L117.53,306.96 L117.76,307.10 L117.98,307.23 L118.21,307.36 L118.44,307.50 L118.67,307.63 L118.90,307.76 L119.12,307.89 L119.35,308.01 L119.58,308.14 L119.81,308.27 L120.04,308.39 L120.27,308.51 L120.49,308.64 L120.72,308.76 L120.95,308.88 L121.18,309.00 L121.41,309.12 L121.64,309.23 L121.86,309.35 L122.09,309.47 L122.32,309.58 L122.55,309.69 L122.78,309.81 L123.00,309.92 L123.23,310.03 L123.46,310.14 L123.69,310.25 L123.92,310.35 L124.15,310.46 L124.37,310.56 L124.60,310.67 L124.83,310.77 L125.06,310.87 L125.29,310.97 L125.52,311.07 L125.74,311.17 L125.97,311.27 L126.20,311.37 L126.43,311.46 L126.66,311.56 L126.88,311.65 L127.11,311.75 L127.34,311.84 L127.57,311.93 L127.80,312.02 L128.03,312.11 L128.25,312.20 L128.48,312.28 L128.71,312.37 L128.94,312.45 L129.17,312.54 L129.39,312.62 L129.62,312.70 L129.85,312.78 L130.08,312.86 L130.31,312.94 L130.46,312.99 L131.68,313.39 L132.89,313.77 L134.11,314.11 L135.33,314.43 L136.55,314.72 L137.76,314.99 L138.98,315.23 L140.20,315.44 L141.41,315.63 L142.63,315.80 L143.85,315.94 L145.07,316.06 L146.28,316.15 L147.50,316.23 L148.72,316.28 L149.94,316.31 L151.15,316.32 L152.37,316.31 L153.59,316.28 L154.80,316.23 L156.02,316.16 L157.24,316.08 L158.46,315.97 L159.67,315.85 L160.89,315.72 L162.11,315.56 L163.32,315.39 L164.54,315.21 L165.76,315.01 L166.98,314.79 L168.19,314.57 L169.41,314.32 L170.63,314.07 L171.84,313.80 L173.06,313.52 L174.28,313.23 L175.50,312.93 L176.71,312.61 L177.93,312.28 L179.15,311.95 L180.37,311.60 L181.58,311.24 L182.80,310.88 L184.02,310.50 L185.23,310.12 L186.45,309.72 L187.67,309.32 L188.89,308.91 L190.10,308.49 L191.32,308.07 L192.54,307.64 L193.75,307.20 L194.97,306.75 L196.19,306.30 L197.41,305.84 L198.62,305.37 L199.84,304.90 L201.06,304.42 L202.27,303.94 L203.49,303.45 L204.71,302.96 L205.93,302.46 L207.14,301.96 L208.36,301.45 L209.58,300.94 L210.80,300.43 L212.01,299.91 L213.23,299.38 L214.45,298.86 L215.66,298.33 L216.88,297.79 L218.10,297.25 L219.32,296.71 L220.53,296.17 L221.75,295.62 L222.97,295.07 L224.18,294.52 L225.40,293.96 L226.62,293.40 L227.84,292.84 L229.05,292.28 L230.27,291.71 L231.49,291.15 L232.70,290.58 L233.92,290.01 L235.14,289.43 L236.36,288.86 L237.57,288.28 L238.79,287.70 L240.01,287.12 L241.23,286.54 L242.44,285.96 L243.66,285.37 L244.88,284.79 L246.09,284.20 L247.31,283.61 L248.53,283.02 L249.75,282.43 L250.96,281.84 L252.18,281.24 L253.40,280.65 L254.61,280.05 L255.83,279.46 L257.05,278.86 L258.27,278.26 L259.48,277.66 L260.70,277.06 L261.92,276.46 L263.13,275.86 L264.35,275.26 L265.57,274.66 L266.79,274.05 L268.00,273.45 L269.22,272.85 L270.44,272.24 L271.66,271.64 L272.87,271.03 L274.09,270.42 L275.31,269.82 L276.52,269.21 L277.74,268.60 L278.96,268.00 L280.18,267.39 L281.39,266.78 L282.61,266.17 L283.83,265.56 L285.04,264.95 L286.26,264.34 L287.48,263.73 L288.70,263.12 L289.91,262.51 L291.13,261.90 L292.35,261.29 L293.56,260.68 L294.78,260.07 L296.00,259.46 L297.22,258.85 L298.43,258.24 L299.65,257.62 L300.87,257.01 L302.09,256.40 L303.30,255.79 L304.52,255.18 L305.74,254.56 L306.95,253.95 L308.17,253.34 L309.39,252.73 L310.61,252.11 L311.82,251.50 L313.04,250.89 L314.26,250.27 L315.47,249.66 L316.69,249.05 L317.91,248.44 L319.13,247.82 L320.34,247.21 L321.56,246.60 L322.78,245.98 L323.99,245.37 L325.21,244.76 L326.43,244.14 L327.65,243.53 L328.86,242.92 L330.08,242.30 L331.30,241.69 L332.52,241.08 L333.73,240.46 L334.95,239.85 L336.17,239.24 L337.38,238.62 L338.60,238.01 L339.82,237.40 L341.04,236.78 L342.25,236.17 L343.47,235.56 L373.90,220.23 L404.33,204.92 L434.76,189.62 L465.19,174.32 L495.62,159.03 L526.05,143.75 L556.48,128.46 L586.91,113.18 L617.34,97.90 L647.77,82.61 L678.20,67.33" stroke="#5fc4bd"/>
<path d="M69.60,377.72 L69.68,377.74 L69.75,377.76 L69.83,377.78 L69.90,377.80 L69.98,377.82 L70.06,377.84 L70.13,377.86 L70.21,377.87 L70.28,377.89 L70.36,377.90 L70.44,377.91 L70.51,377.92 L70.59,377.93 L70.67,377.94 L70.74,377.95 L70.82,377.96 L70.89,377.97 L70.97,377.97 L71.05,377.98 L71.12,377.98 L71.20,377.98 L71.27,377.99 L71.35,377.99 L71.43,377.99 L71.50,377.99 L71.58,377.99 L71.65,377.98 L71.73,377.98 L71.81,377.98 L71.88,377.97 L71.96,377.97 L72.03,377.96 L72.11,377.95 L72.19,377.94 L72.26,377.94 L72.34,377.93 L72.41,377.92 L72.49,377.90 L72.57,377.89 L72.64,377.88 L72.72,377.86 L72.80,377.85 L72.87,377.84 L72.95,377.82 L73.02,377.80 L73.10,377.78 L73.18,377.77 L73.25,377.75 L73.33,377.73 L73.40,377.71 L73.48,377.69 L73.56,377.66 L73.63,377.64 L73.71,377.62 L73.78,377.60 L73.86,377.57 L73.94,377.55 L74.01,377.52 L74.09,377.49 L74.16,377.47 L74.24,377.44 L74.32,377.41 L74.39,377.38 L74.47,377.35 L74.54,377.32 L74.62,377.29 L74.70,377.26 L74.77,377.23 L74.85,377.19 L74.93,377.16 L75.00,377.13 L75.08,377.09 L75.15,377.06 L75.23,377.02 L75.31,376.98 L75.38,376.95 L75.46,376.91 L75.53,376.87 L75.61,376.83 L75.69,376.79 L75.76,376.75 L75.84,376.71 L75.91,376.67 L75.99,376.63 L76.07,376.59 L76.14,376.55 L76.22,376.51 L76.29,376.46 L76.37,376.42 L76.45,376.37 L76.52,376.33 L76.60,376.28 L76.67,376.24 L76.75,376.19 L76.83,376.15 L76.90,376.10 L76.98,376.05 L77.06,376.00 L77.13,375.95 L77.21,375.91 L77.28,375.86 L77.36,375.81 L77.44,375.76 L77.51,375.71 L77.59,375.65 L77.66,375.60 L77.74,375.55 L77.82,375.50 L77.89,375.45 L77.97,375.39 L78.04,375.34 L78.12,375.28 L78.20,375.23 L78.27,375.18 L78.35,375.12 L78.42,375.07 L78.50,375.01 L78.58,374.95 L78.65,374.90 L78.73,374.84 L78.96,374.67 L79.19,374.49 L79.41,374.31 L79.64,374.13 L79.87,373.94 L80.10,373.76 L80.33,373.57 L80.55,373.37 L80.78,373.18 L81.01,372.98 L81.24,372.78 L81.47,372.58 L81.70,372.38 L81.92,372.17 L82.15,371.96 L82.38,371.75 L82.61,371.54 L82.84,371.33 L83.07,371.11 L83.29,370.90 L83.52,370.68 L83.75,370.46 L83.98,370.24 L84.21,370.02 L84.43,369.79 L84.66,369.57 L84.89,369.34 L85.12,369.12 L85.35,368.89 L85.58,368.66 L85.80,368.43 L86.03,368.20 L86.26,367.97 L86.49,367.74 L86.72,367.51 L86.95,367.27 L87.17,367.04 L87.40,366.81 L87.63,366.57 L87.86,366.34 L88.09,366.10 L88.31,365.87 L88.54,365.63 L88.77,365.40 L89.00,365.16 L89.23,364.93 L89.46,364.69 L89.68,364.45 L89.91,364.22 L90.14,363.98 L90.37,363.74 L90.60,363.51 L90.82,363.27 L91.05,363.04 L91.28,362.80 L91.51,362.56 L91.74,362.33 L91.97,362.09 L92.19,361.86 L92.42,361.62 L92.65,361.39 L92.88,361.15 L93.11,360.92 L93.34,360.69 L93.56,360.45 L93.79,360.22 L94.02,359.99 L94.25,359.76 L94.48,359.53 L94.70,359.30 L94.93,359.07 L95.16,358.84 L95.39,358.61 L95.62,358.38 L95.85,358.15 L96.07,357.93 L96.30,357.70 L96.53,357.47 L96.76,357.25 L96.99,357.03 L97.22,356.80 L97.44,356.58 L97.67,356.36 L97.90,356.14 L98.13,355.91 L98.36,355.69 L98.58,355.48 L98.81,355.26 L99.04,355.04 L99.27,354.82 L99.50,354.61 L99.73,354.39 L99.95,354.18 L100.18,353.96 L100.41,353.75 L100.64,353.54 L100.87,353.33 L101.10,353.12 L101.32,352.91 L101.55,352.70 L101.78,352.50 L102.01,352.29 L102.24,352.08 L102.46,351.88 L102.69,351.67 L102.92,351.47 L103.15,351.27 L103.38,351.07 L103.61,350.87 L103.83,350.67 L104.06,350.47 L104.29,350.27 L104.52,350.08 L104.75,349.88 L104.97,349.69 L105.20,349.49 L105.43,349.30 L105.66,349.11 L105.89,348.92 L106.12,348.73 L106.34,348.54 L106.57,348.35 L106.80,348.17 L107.03,347.98 L107.26,347.79 L107.49,347.61 L107.71,347.43 L107.94,347.24 L108.17,347.06 L108.40,346.88 L108.63,346.70 L108.85,346.52 L109.08,346.35 L109.31,346.17 L109.54,345.99 L109.77,345.82 L110.00,345.64 L110.22,345.47 L110.45,345.30 L110.68,345.13 L110.91,344.96 L111.14,344.79 L111.37,344.62 L111.59,344.45 L111.82,344.28 L112.05,344.12 L112.28,343.95 L112.51,343.79 L112.73,343.62 L112.96,343.46 L113.19,343.30 L113.42,343.14 L113.65,342.98 L113.88,342.82 L114.10,342.66 L114.33,342.50 L114.56,342.35 L114.79,342.19 L115.02,342.04 L115.25,341.88 L115.47,341.73 L115.70,341.58 L115.93,341.42 L116.16,341.27 L116.39,341.12 L116.61,340.97 L116.84,340.83 L117.07,340.68 L117.30,340.53 L117.53,340.38 L117.76,340.24 L117.98,340.09 L118.21,339.95 L118.44,339.81 L118.67,339.66 L118.90,339.52 L119.12,339.38 L119.35,339.24 L119.58,339.10 L119.81,338.96 L120.04,338.83 L120.27,338.69 L120.49,338.55 L120.72,338.42 L120.95,338.28 L121.18,338.15 L121.41,338.01 L121.64,337.88 L121.86,337.75 L122.09,337.61 L122.32,337.48 L122.55,337.35 L122.78,337.22 L123.00,337.09 L123.23,336.96 L123.46,336.84 L123.69,336.71 L123.92,336.58 L124.15,336.45 L124.37,336.33 L124.60,336.20 L124.83,336.08 L125.06,335.96 L125.29,335.83 L125.52,335.71 L125.74,335.59 L125.97,335.47 L126.20,335.34 L126.43,335.22 L126.66,335.10 L126.88,334.99 L127.11,334.87 L127.34,334.75 L127.57,334.63 L127.80,334.51 L128.03,334.40 L128.25,334.28 L128.48,334.16 L128.71,334.05 L128.94,333.93 L129.17,333.82 L129.39,333.71 L129.62,333.59 L129.85,333.48 L130.08,333.37 L130.31,333.26 L130.46,333.18 L131.68,332.59 L132.89,332.02 L134.11,331.45 L135.33,330.90 L136.55,330.35 L137.76,329.82 L138.98,329.29 L140.20,328.77 L141.41,328.26 L142.63,327.75 L143.85,327.25 L145.07,326.75 L146.28,326.26 L147.50,325.78 L148.72,325.29 L149.94,324.81 L151.15,324.34 L152.37,323.86 L153.59,323.39 L154.80,322.92 L156.02,322.45 L157.24,321.99 L158.46,321.52 L159.67,321.05 L160.89,320.59 L162.11,320.12 L163.32,319.65 L164.54,319.18 L165.76,318.72 L166.98,318.25 L168.19,317.78 L169.41,317.31 L170.63,316.83 L171.84,316.36 L173.06,315.88 L174.28,315.41 L175.50,314.93 L176.71,314.45 L177.93,313.96 L179.15,313.48 L180.37,312.99 L181.58,312.50 L182.80,312.01 L184.02,311.52 L185.23,311.02 L186.45,310.52 L187.67,310.02 L188.89,309.52 L190.10,309.01 L191.32,308.51 L192.54,308.00 L193.75,307.48 L194.97,306.97 L196.19,306.45 L197.41,305.93 L198.62,305.41 L199.84,304.89 L201.06,304.36 L202.27,303.83 L203.49,303.30 L204.71,302.77 L205.93,302.24 L207.14,301.70 L208.36,301.16 L209.58,300.62 L210.80,300.08 L212.01,299.53 L213.23,298.99 L214.45,298.44 L215.66,297.89 L216.88,297.34 L218.10,296.78 L219.32,296.23 L220.53,295.67 L221.75,295.11 L222.97,294.55 L224.18,293.99 L225.40,293.43 L226.62,292.86 L227.84,292.29 L229.05,291.73 L230.27,291.16 L231.49,290.59 L232.70,290.01 L233.92,289.44 L235.14,288.87 L236.36,288.29 L237.57,287.71 L238.79,287.14 L240.01,286.56 L241.23,285.98 L242.44,285.39 L243.66,284.81 L244.88,284.23 L246.09,283.64 L247.31,283.06 L248.53,282.47 L249.75,281.89 L250.96,281.30 L252.18,280.71 L253.40,280.12 L254.61,279.53 L255.83,278.94 L257.05,278.35 L258.27,277.75 L259.48,277.16 L260.70,276.57 L261.92,275.97 L263.13,275.38 L264.35,274.78 L265.57,274.19 L266.79,273.59 L268.00,272.99 L269.22,272.40 L270.44,271.80 L271.66,271.20 L272.87,270.60 L274.09,270.00 L275.31,269.40 L276.52,268.80 L277.74,268.20 L278.96,267.60 L280.18,266.99 L281.39,266.39 L282.61,265.79 L283.83,265.19 L285.04,264.58 L286.26,263.98 L287.48,263.38 L288.70,262.77 L289.91,262.17 L291.13,261.56 L292.35,260.96 L293.56,260.36 L294.78,259.75 L296.00,259.14 L297.22,258.54 L298.43,257.93 L299.65,257.33 L300.87,256.72 L302.09,256.11 L303.30,255.51 L304.52,254.90 L305.74,254.29 L306.95,253.69 L308.17,253.08 L309.39,252.47 L310.61,251.86 L311.82,251.25 L313.04,250.65 L314.26,250.04 L315.47,249.43 L316.69,248.82 L317.91,248.21 L319.13,247.61 L320.34,247.00 L321.56,246.39 L322.78,245.78 L323.99,245.17 L325.21,244.56 L326.43,243.95 L327.65,243.34 L328.86,242.73 L330.08,242.12 L331.30,241.51 L332.52,240.90 L333.73,240.29 L334.95,239.68 L336.17,239.07 L337.38,238.46 L338.60,237.86 L339.82,237.25 L341.04,236.64 L342.25,236.02 L343.47,235.41 L373.90,220.15 L404.33,204.87 L434.76,189.59 L465.19,174.31 L495.62,159.03 L526.05,143.74 L556.48,128.46 L586.91,113.18 L617.34,97.90 L647.77,82.61 L678.20,67.33" stroke="#ae4a98"/>
</g>
<g font-size="19.2">
<text x="69.00" y="513.40" text-anchor="middle">0</text>
<text x="145.08" y="513.40" text-anchor="middle">0.5</text>
<text x="221.15" y="513.40" text-anchor="middle">1</text>
<text x="297.23" y="513.40" text-anchor="middle">1.5</text>
<text x="373.30" y="513.40" text-anchor="middle">2</text>
<text x="449.38" y="513.40" text-anchor="middle">2.5</text>
<text x="525.45" y="513.40" text-anchor="middle">3</text>
<text x="601.52" y="513.40" text-anchor="middle">3.5</text>
<text x="677.60" y="513.40" text-anchor="middle">4</text>
<text x="61.40" y="493.45" text-anchor="end">0</text>
<text x="61.40" y="425.04" text-anchor="end">0.5</text>
<text x="61.40" y="356.63" text-anchor="end">1</text>
<text x="61.40" y="288.22" text-anchor="end">1.5</text>
<text x="61.40" y="219.81" text-anchor="end">2</text>
<text x="61.40" y="151.40" text-anchor="end">2.5</text>
<text x="61.40" y="82.99" text-anchor="end">3</text>
<text x="61.40" y="14.58" text-anchor="end">3.5</text>
</g>
<text x="373.95" y="539.60" font-size="20.4" text-anchor="middle">time<tspan dx="1.1">(sec)</tspan></text>
<text transform="translate(24.2,246.80) rotate(-90)" font-size="20.7" text-anchor="middle">State variables</text>
<rect x="567.5" y="21.80" width="95.60000000000002" height="153.20" fill="#ffffff" stroke="#38383b" stroke-width="1.15"/>
<path d="M573,38.70 H629.5" stroke="#1f46a6" stroke-width="2.7" fill="none"/>
<text x="633.8" y="42.90" font-size="16.4">x<tspan dy="7.2" font-size="13.4" dx="0.3">11</tspan></text>
<path d="M573,68.70 H629.5" stroke="#ec2028" stroke-width="2.9" fill="none"/>
<text x="633.8" y="72.90" font-size="16.4">x<tspan dy="7.2" font-size="13.4" dx="0.3">21</tspan></text>
<path d="M573,99.00 H629.5" stroke="#46b45a" stroke-width="3.5" fill="none"/>
<text x="633.8" y="103.20" font-size="16.4">x<tspan dy="7.2" font-size="13.4" dx="0.3">31</tspan></text>
<path d="M573,128.40 H629.5" stroke="#5fc4bd" stroke-width="2.7" fill="none"/>
<text x="633.8" y="132.60" font-size="16.4">x<tspan dy="7.2" font-size="13.4" dx="0.3">41</tspan></text>
<path d="M573,158.20 H629.5" stroke="#ae4a98" stroke-width="3.0" fill="none"/>
<text x="633.8" y="162.40" font-size="16.4">x<tspan dy="7.2" font-size="13.4" dx="0.3">51</tspan></text>
</g>
<g id="plot2">
<path d="M145.68,596.3 V1074.7 M221.75,596.3 V1074.7 M297.83,596.3 V1074.7 M373.90,596.3 V1074.7 M449.98,596.3 V1074.7 M526.05,596.3 V1074.7 M602.12,596.3 V1074.7 M70.3,1015.30 H677.6 M70.3,956.00 H677.6 M70.3,895.50 H677.6 M70.3,835.80 H677.6 M70.3,775.30 H677.6 M70.3,716.00 H677.6 M70.3,655.50 H677.6" stroke="#262626" stroke-opacity="0.155" stroke-width="1.2" fill="none"/>
<path d="M145.68,1074.7 v-6 M145.68,596.3 v6 M221.75,1074.7 v-6 M221.75,596.3 v6 M297.83,1074.7 v-6 M297.83,596.3 v6 M373.90,1074.7 v-6 M373.90,596.3 v6 M449.98,1074.7 v-6 M449.98,596.3 v6 M526.05,1074.7 v-6 M526.05,596.3 v6 M602.12,1074.7 v-6 M602.12,596.3 v6 M70.3,1015.30 h6 M677.6,1015.30 h-6 M70.3,956.00 h6 M677.6,956.00 h-6 M70.3,895.50 h6 M677.6,895.50 h-6 M70.3,835.80 h6 M677.6,835.80 h-6 M70.3,775.30 h6 M677.6,775.30 h-6 M70.3,716.00 h6 M677.6,716.00 h-6 M70.3,655.50 h6 M677.6,655.50 h-6" stroke="#38383b" stroke-width="1.25" fill="none"/>
<rect x="70.3" y="596.3" width="607.3000000000001" height="478.4000000000001" fill="none" stroke="#38383b" stroke-width="1.15"/>
<clipPath id="clip2"><rect x="67.3" y="596.3" width="612.3000000000001" height="478.4000000000001"/></clipPath>
<g clip-path="url(#clip2)" fill="none" stroke-width="3.15" stroke-linejoin="round" stroke-linecap="butt">
<path d="M69.60,775.57 L69.68,774.44 L69.75,773.25 L69.83,772.02 L69.90,770.75 L69.98,769.44 L70.06,768.09 L70.13,766.70 L70.21,765.29 L70.28,763.84 L70.36,762.37 L70.44,760.88 L70.51,759.36 L70.59,757.83 L70.67,756.28 L70.74,754.72 L70.82,753.14 L70.89,751.56 L70.97,749.97 L71.05,748.36 L71.12,746.76 L71.20,745.15 L71.27,743.54 L71.35,741.93 L71.43,740.31 L71.50,738.70 L71.58,737.10 L71.65,735.49 L71.73,733.90 L71.81,732.30 L71.88,730.72 L71.96,729.14 L72.03,727.58 L72.11,726.02 L72.19,724.47 L72.26,722.93 L72.34,721.41 L72.41,719.89 L72.49,718.39 L72.57,716.91 L72.64,715.43 L72.72,713.97 L72.80,712.53 L72.87,711.10 L72.95,709.69 L73.02,708.29 L73.10,706.91 L73.18,705.54 L73.25,704.19 L73.33,702.86 L73.40,701.54 L73.48,700.24 L73.56,698.96 L73.63,697.70 L73.71,696.45 L73.78,695.22 L73.86,694.01 L73.94,692.82 L74.01,691.64 L74.09,690.49 L74.16,689.35 L74.24,688.22 L74.32,687.12 L74.39,686.03 L74.47,684.97 L74.54,683.91 L74.62,682.88 L74.70,681.87 L74.77,680.87 L74.85,679.89 L74.93,678.92 L75.00,677.98 L75.08,677.05 L75.15,676.14 L75.23,675.24 L75.31,674.37 L75.38,673.51 L75.46,672.66 L75.53,671.83 L75.61,671.02 L75.69,670.23 L75.76,669.45 L75.84,668.69 L75.91,667.94 L75.99,667.21 L76.07,666.49 L76.14,665.79 L76.22,665.10 L76.29,664.43 L76.37,663.78 L76.45,663.13 L76.52,662.51 L76.60,661.89 L76.67,661.30 L76.75,660.71 L76.83,660.14 L76.90,659.58 L76.98,659.04 L77.06,658.51 L77.13,657.99 L77.21,657.48 L77.28,656.99 L77.36,656.51 L77.44,656.05 L77.51,655.59 L77.59,655.15 L77.66,654.72 L77.74,654.30 L77.82,653.89 L77.89,653.49 L77.97,653.11 L78.04,652.73 L78.12,652.37 L78.20,652.02 L78.27,651.68 L78.35,651.35 L78.42,651.02 L78.50,650.71 L78.58,650.41 L78.65,650.12 L78.73,649.84 L78.96,649.05 L79.19,648.34 L79.41,647.71 L79.64,647.16 L79.87,646.67 L80.10,646.25 L80.33,645.90 L80.55,645.60 L80.78,645.36 L81.01,645.18 L81.24,645.05 L81.47,644.96 L81.70,644.92 L81.92,644.93 L82.15,644.98 L82.38,645.07 L82.61,645.19 L82.84,645.35 L83.07,645.55 L83.29,645.77 L83.52,646.03 L83.75,646.31 L83.98,646.62 L84.21,646.96 L84.43,647.32 L84.66,647.70 L84.89,648.10 L85.12,648.53 L85.35,648.97 L85.58,649.43 L85.80,649.91 L86.03,650.41 L86.26,650.92 L86.49,651.44 L86.72,651.98 L86.95,652.53 L87.17,653.09 L87.40,653.67 L87.63,654.25 L87.86,654.85 L88.09,655.45 L88.31,656.07 L88.54,656.69 L88.77,657.32 L89.00,657.96 L89.23,658.61 L89.46,659.26 L89.68,659.92 L89.91,660.59 L90.14,661.26 L90.37,661.93 L90.60,662.62 L90.82,663.30 L91.05,663.99 L91.28,664.69 L91.51,665.38 L91.74,666.09 L91.97,666.79 L92.19,667.50 L92.42,668.21 L92.65,668.93 L92.88,669.64 L93.11,670.36 L93.34,671.08 L93.56,671.80 L93.79,672.53 L94.02,673.26 L94.25,673.98 L94.48,674.71 L94.70,675.44 L94.93,676.17 L95.16,676.91 L95.39,677.64 L95.62,678.37 L95.85,679.11 L96.07,679.84 L96.30,680.58 L96.53,681.31 L96.76,682.05 L96.99,682.78 L97.22,683.52 L97.44,684.26 L97.67,684.99 L97.90,685.73 L98.13,686.46 L98.36,687.19 L98.58,687.93 L98.81,688.66 L99.04,689.39 L99.27,690.12 L99.50,690.85 L99.73,691.58 L99.95,692.31 L100.18,693.04 L100.41,693.77 L100.64,694.49 L100.87,695.22 L101.10,695.94 L101.32,696.66 L101.55,697.38 L101.78,698.10 L102.01,698.82 L102.24,699.54 L102.46,700.25 L102.69,700.96 L102.92,701.67 L103.15,702.38 L103.38,703.09 L103.61,703.80 L103.83,704.50 L104.06,705.21 L104.29,705.91 L104.52,706.61 L104.75,707.30 L104.97,708.00 L105.20,708.69 L105.43,709.39 L105.66,710.07 L105.89,710.76 L106.12,711.45 L106.34,712.13 L106.57,712.81 L106.80,713.49 L107.03,714.17 L107.26,714.84 L107.49,715.51 L107.71,716.18 L107.94,716.85 L108.17,717.52 L108.40,718.18 L108.63,718.84 L108.85,719.50 L109.08,720.16 L109.31,720.81 L109.54,721.46 L109.77,722.11 L110.00,722.76 L110.22,723.40 L110.45,724.04 L110.68,724.68 L110.91,725.32 L111.14,725.95 L111.37,726.58 L111.59,727.21 L111.82,727.84 L112.05,728.46 L112.28,729.09 L112.51,729.70 L112.73,730.32 L112.96,730.93 L113.19,731.55 L113.42,732.15 L113.65,732.76 L113.88,733.36 L114.10,733.96 L114.33,734.56 L114.56,735.16 L114.79,735.75 L115.02,736.34 L115.25,736.93 L115.47,737.51 L115.70,738.09 L115.93,738.67 L116.16,739.25 L116.39,739.82 L116.61,740.39 L116.84,740.96 L117.07,741.53 L117.30,742.09 L117.53,742.65 L117.76,743.21 L117.98,743.76 L118.21,744.32 L118.44,744.87 L118.67,745.41 L118.90,745.96 L119.12,746.50 L119.35,747.04 L119.58,747.57 L119.81,748.11 L120.04,748.64 L120.27,749.17 L120.49,749.69 L120.72,750.21 L120.95,750.73 L121.18,751.25 L121.41,751.77 L121.64,752.28 L121.86,752.79 L122.09,753.29 L122.32,753.80 L122.55,754.30 L122.78,754.80 L123.00,755.29 L123.23,755.79 L123.46,756.28 L123.69,756.76 L123.92,757.25 L124.15,757.73 L124.37,758.21 L124.60,758.69 L124.83,759.16 L125.06,759.64 L125.29,760.11 L125.52,760.57 L125.74,761.04 L125.97,761.50 L126.20,761.96 L126.43,762.41 L126.66,762.87 L126.88,763.32 L127.11,763.77 L127.34,764.21 L127.57,764.66 L127.80,765.10 L128.03,765.54 L128.25,765.97 L128.48,766.41 L128.71,766.84 L128.94,767.27 L129.17,767.69 L129.39,768.12 L129.62,768.54 L129.85,768.96 L130.08,769.37 L130.31,769.79 L130.46,770.06 L131.68,772.22 L132.89,774.30 L134.11,776.32 L135.33,778.28 L136.55,780.17 L137.76,782.00 L138.98,783.76 L140.20,785.47 L141.41,787.12 L142.63,788.71 L143.85,790.24 L145.07,791.72 L146.28,793.15 L147.50,794.53 L148.72,795.86 L149.94,797.14 L151.15,798.38 L152.37,799.57 L153.59,800.71 L154.80,801.81 L156.02,802.87 L157.24,803.90 L158.46,804.88 L159.67,805.83 L160.89,806.73 L162.11,807.61 L163.32,808.45 L164.54,809.26 L165.76,810.04 L166.98,810.78 L168.19,811.50 L169.41,812.19 L170.63,812.85 L171.84,813.49 L173.06,814.10 L174.28,814.69 L175.50,815.25 L176.71,815.79 L177.93,816.31 L179.15,816.81 L180.37,817.29 L181.58,817.74 L182.80,818.18 L184.02,818.61 L185.23,819.01 L186.45,819.40 L187.67,819.77 L188.89,820.12 L190.10,820.47 L191.32,820.79 L192.54,821.11 L193.75,821.41 L194.97,821.70 L196.19,821.97 L197.41,822.24 L198.62,822.49 L199.84,822.73 L201.06,822.96 L202.27,823.19 L203.49,823.40 L204.71,823.60 L205.93,823.80 L207.14,823.98 L208.36,824.16 L209.58,824.33 L210.80,824.50 L212.01,824.65 L213.23,824.80 L214.45,824.95 L215.66,825.09 L216.88,825.22 L218.10,825.34 L219.32,825.46 L220.53,825.58 L221.75,825.69 L222.97,825.79 L224.18,825.89 L225.40,825.99 L226.62,826.08 L227.84,826.17 L229.05,826.25 L230.27,826.33 L231.49,826.41 L232.70,826.48 L233.92,826.55 L235.14,826.62 L236.36,826.69 L237.57,826.75 L238.79,826.81 L240.01,826.86 L241.23,826.91 L242.44,826.97 L243.66,827.01 L244.88,827.06 L246.09,827.11 L247.31,827.15 L248.53,827.19 L249.75,827.23 L250.96,827.26 L252.18,827.30 L253.40,827.33 L254.61,827.37 L255.83,827.40 L257.05,827.43 L258.27,827.45 L259.48,827.48 L260.70,827.51 L261.92,827.53 L263.13,827.55 L264.35,827.58 L265.57,827.60 L266.79,827.62 L268.00,827.64 L269.22,827.66 L270.44,827.67 L271.66,827.69 L272.87,827.71 L274.09,827.72 L275.31,827.74 L276.52,827.75 L277.74,827.76 L278.96,827.78 L280.18,827.79 L281.39,827.80 L282.61,827.81 L283.83,827.82 L285.04,827.83 L286.26,827.84 L287.48,827.85 L288.70,827.86 L289.91,827.87 L291.13,827.88 L292.35,827.88 L293.56,827.89 L294.78,827.90 L296.00,827.90 L297.22,827.91 L298.43,827.92 L299.65,827.92 L300.87,827.93 L302.09,827.93 L303.30,827.94 L304.52,827.94 L305.74,827.95 L306.95,827.95 L308.17,827.96 L309.39,827.96 L310.61,827.96 L311.82,827.97 L313.04,827.97 L314.26,827.97 L315.47,827.98 L316.69,827.98 L317.91,827.98 L319.13,827.99 L320.34,827.99 L321.56,827.99 L322.78,827.99 L323.99,827.99 L325.21,828.00 L326.43,828.00 L327.65,828.00 L328.86,828.00 L330.08,828.00 L331.30,828.01 L332.52,828.01 L333.73,828.01 L334.95,828.01 L336.17,828.01 L337.38,828.01 L338.60,828.01 L339.82,828.02 L341.04,828.02 L342.25,828.02 L343.47,828.02 L373.90,828.03 L404.33,828.04 L434.76,828.04 L465.19,828.04 L495.62,828.04 L526.05,828.04 L556.48,828.04 L586.91,828.04 L617.34,828.04 L647.77,828.04 L678.20,828.04" stroke="#1f46a6"/>
<path d="M69.60,1015.43 L69.68,1013.50 L69.75,1011.58 L69.83,1009.67 L69.90,1007.78 L69.98,1005.90 L70.06,1004.03 L70.13,1002.17 L70.21,1000.33 L70.28,998.50 L70.36,996.68 L70.44,994.87 L70.51,993.07 L70.59,991.29 L70.67,989.52 L70.74,987.75 L70.82,986.00 L70.89,984.27 L70.97,982.54 L71.05,980.82 L71.12,979.12 L71.20,977.43 L71.27,975.74 L71.35,974.07 L71.43,972.41 L71.50,970.76 L71.58,969.12 L71.65,967.50 L71.73,965.88 L71.81,964.27 L71.88,962.68 L71.96,961.09 L72.03,959.52 L72.11,957.95 L72.19,956.40 L72.26,954.85 L72.34,953.32 L72.41,951.80 L72.49,950.28 L72.57,948.78 L72.64,947.28 L72.72,945.80 L72.80,944.32 L72.87,942.86 L72.95,941.40 L73.02,939.96 L73.10,938.52 L73.18,937.09 L73.25,935.68 L73.33,934.27 L73.40,932.87 L73.48,931.48 L73.56,930.10 L73.63,928.73 L73.71,927.37 L73.78,926.01 L73.86,924.67 L73.94,923.33 L74.01,922.01 L74.09,920.69 L74.16,919.38 L74.24,918.08 L74.32,916.78 L74.39,915.50 L74.47,914.23 L74.54,912.96 L74.62,911.70 L74.70,910.45 L74.77,909.21 L74.85,907.97 L74.93,906.75 L75.00,905.53 L75.08,904.32 L75.15,903.12 L75.23,901.93 L75.31,900.74 L75.38,899.56 L75.46,898.39 L75.53,897.23 L75.61,896.07 L75.69,894.93 L75.76,893.79 L75.84,892.66 L75.91,891.53 L75.99,890.41 L76.07,889.30 L76.14,888.20 L76.22,887.11 L76.29,886.02 L76.37,884.94 L76.45,883.87 L76.52,882.80 L76.60,881.74 L76.67,880.69 L76.75,879.64 L76.83,878.60 L76.90,877.57 L76.98,876.55 L77.06,875.53 L77.13,874.52 L77.21,873.52 L77.28,872.52 L77.36,871.53 L77.44,870.54 L77.51,869.56 L77.59,868.59 L77.66,867.63 L77.74,866.67 L77.82,865.72 L77.89,864.77 L77.97,863.83 L78.04,862.90 L78.12,861.97 L78.20,861.05 L78.27,860.14 L78.35,859.23 L78.42,858.33 L78.50,857.43 L78.58,856.54 L78.65,855.66 L78.73,854.78 L78.96,852.18 L79.19,849.63 L79.41,847.13 L79.64,844.68 L79.87,842.28 L80.10,839.93 L80.33,837.63 L80.55,835.37 L80.78,833.16 L81.01,831.00 L81.24,828.87 L81.47,826.79 L81.70,824.75 L81.92,822.76 L82.15,820.80 L82.38,818.88 L82.61,817.01 L82.84,815.17 L83.07,813.37 L83.29,811.60 L83.52,809.87 L83.75,808.18 L83.98,806.52 L84.21,804.90 L84.43,803.31 L84.66,801.75 L84.89,800.23 L85.12,798.74 L85.35,797.28 L85.58,795.85 L85.80,794.45 L86.03,793.08 L86.26,791.73 L86.49,790.42 L86.72,789.13 L86.95,787.88 L87.17,786.65 L87.40,785.44 L87.63,784.26 L87.86,783.11 L88.09,781.98 L88.31,780.88 L88.54,779.80 L88.77,778.74 L89.00,777.71 L89.23,776.70 L89.46,775.72 L89.68,774.75 L89.91,773.81 L90.14,772.89 L90.37,771.99 L90.60,771.11 L90.82,770.25 L91.05,769.40 L91.28,768.58 L91.51,767.78 L91.74,767.00 L91.97,766.23 L92.19,765.49 L92.42,764.76 L92.65,764.05 L92.88,763.35 L93.11,762.68 L93.34,762.01 L93.56,761.37 L93.79,760.74 L94.02,760.13 L94.25,759.53 L94.48,758.95 L94.70,758.38 L94.93,757.83 L95.16,757.29 L95.39,756.77 L95.62,756.25 L95.85,755.76 L96.07,755.27 L96.30,754.80 L96.53,754.35 L96.76,753.90 L96.99,753.47 L97.22,753.05 L97.44,752.64 L97.67,752.25 L97.90,751.86 L98.13,751.49 L98.36,751.13 L98.58,750.78 L98.81,750.44 L99.04,750.11 L99.27,749.79 L99.50,749.48 L99.73,749.18 L99.95,748.90 L100.18,748.62 L100.41,748.35 L100.64,748.09 L100.87,747.84 L101.10,747.60 L101.32,747.37 L101.55,747.14 L101.78,746.93 L102.01,746.72 L102.24,746.53 L102.46,746.34 L102.69,746.16 L102.92,745.98 L103.15,745.82 L103.38,745.66 L103.61,745.51 L103.83,745.37 L104.06,745.24 L104.29,745.11 L104.52,744.99 L104.75,744.87 L104.97,744.77 L105.20,744.67 L105.43,744.57 L105.66,744.49 L105.89,744.41 L106.12,744.33 L106.34,744.26 L106.57,744.20 L106.80,744.15 L107.03,744.10 L107.26,744.05 L107.49,744.01 L107.71,743.98 L107.94,743.95 L108.17,743.93 L108.40,743.91 L108.63,743.90 L108.85,743.89 L109.08,743.89 L109.31,743.90 L109.54,743.90 L109.77,743.92 L110.00,743.94 L110.22,743.96 L110.45,743.99 L110.68,744.02 L110.91,744.05 L111.14,744.09 L111.37,744.14 L111.59,744.19 L111.82,744.24 L112.05,744.30 L112.28,744.36 L112.51,744.42 L112.73,744.49 L112.96,744.56 L113.19,744.64 L113.42,744.72 L113.65,744.80 L113.88,744.89 L114.10,744.98 L114.33,745.07 L114.56,745.17 L114.79,745.27 L115.02,745.37 L115.25,745.48 L115.47,745.59 L115.70,745.70 L115.93,745.81 L116.16,745.93 L116.39,746.05 L116.61,746.18 L116.84,746.30 L117.07,746.43 L117.30,746.57 L117.53,746.70 L117.76,746.84 L117.98,746.98 L118.21,747.12 L118.44,747.27 L118.67,747.41 L118.90,747.56 L119.12,747.72 L119.35,747.87 L119.58,748.03 L119.81,748.19 L120.04,748.35 L120.27,748.51 L120.49,748.68 L120.72,748.84 L120.95,749.01 L121.18,749.18 L121.41,749.36 L121.64,749.53 L121.86,749.71 L122.09,749.88 L122.32,750.07 L122.55,750.25 L122.78,750.43 L123.00,750.62 L123.23,750.80 L123.46,750.99 L123.69,751.18 L123.92,751.37 L124.15,751.56 L124.37,751.76 L124.60,751.96 L124.83,752.15 L125.06,752.35 L125.29,752.55 L125.52,752.75 L125.74,752.95 L125.97,753.16 L126.20,753.36 L126.43,753.57 L126.66,753.78 L126.88,753.98 L127.11,754.19 L127.34,754.40 L127.57,754.61 L127.80,754.83 L128.03,755.04 L128.25,755.26 L128.48,755.47 L128.71,755.69 L128.94,755.90 L129.17,756.12 L129.39,756.34 L129.62,756.56 L129.85,756.78 L130.08,757.00 L130.31,757.22 L130.46,757.37 L131.68,758.57 L132.89,759.79 L134.11,761.02 L135.33,762.26 L136.55,763.51 L137.76,764.76 L138.98,766.02 L140.20,767.28 L141.41,768.55 L142.63,769.81 L143.85,771.06 L145.07,772.31 L146.28,773.56 L147.50,774.79 L148.72,776.02 L149.94,777.24 L151.15,778.44 L152.37,779.64 L153.59,780.82 L154.80,781.98 L156.02,783.14 L157.24,784.27 L158.46,785.39 L159.67,786.50 L160.89,787.58 L162.11,788.65 L163.32,789.71 L164.54,790.74 L165.76,791.76 L166.98,792.75 L168.19,793.73 L169.41,794.69 L170.63,795.63 L171.84,796.55 L173.06,797.45 L174.28,798.34 L175.50,799.20 L176.71,800.05 L177.93,800.88 L179.15,801.68 L180.37,802.47 L181.58,803.24 L182.80,804.00 L184.02,804.73 L185.23,805.45 L186.45,806.14 L187.67,806.83 L188.89,807.49 L190.10,808.13 L191.32,808.76 L192.54,809.38 L193.75,809.97 L194.97,810.55 L196.19,811.12 L197.41,811.67 L198.62,812.20 L199.84,812.72 L201.06,813.22 L202.27,813.71 L203.49,814.19 L204.71,814.65 L205.93,815.10 L207.14,815.53 L208.36,815.96 L209.58,816.37 L210.80,816.76 L212.01,817.15 L213.23,817.52 L214.45,817.88 L215.66,818.23 L216.88,818.57 L218.10,818.90 L219.32,819.22 L220.53,819.53 L221.75,819.83 L222.97,820.12 L224.18,820.40 L225.40,820.67 L226.62,820.93 L227.84,821.19 L229.05,821.43 L230.27,821.67 L231.49,821.90 L232.70,822.12 L233.92,822.33 L235.14,822.54 L236.36,822.74 L237.57,822.93 L238.79,823.12 L240.01,823.30 L241.23,823.48 L242.44,823.64 L243.66,823.81 L244.88,823.96 L246.09,824.11 L247.31,824.26 L248.53,824.40 L249.75,824.54 L250.96,824.67 L252.18,824.79 L253.40,824.92 L254.61,825.03 L255.83,825.15 L257.05,825.26 L258.27,825.36 L259.48,825.46 L260.70,825.56 L261.92,825.66 L263.13,825.75 L264.35,825.83 L265.57,825.92 L266.79,826.00 L268.00,826.08 L269.22,826.15 L270.44,826.23 L271.66,826.30 L272.87,826.36 L274.09,826.43 L275.31,826.49 L276.52,826.55 L277.74,826.61 L278.96,826.67 L280.18,826.72 L281.39,826.77 L282.61,826.82 L283.83,826.87 L285.04,826.91 L286.26,826.96 L287.48,827.00 L288.70,827.04 L289.91,827.08 L291.13,827.12 L292.35,827.16 L293.56,827.19 L294.78,827.22 L296.00,827.26 L297.22,827.29 L298.43,827.32 L299.65,827.35 L300.87,827.37 L302.09,827.40 L303.30,827.43 L304.52,827.45 L305.74,827.47 L306.95,827.50 L308.17,827.52 L309.39,827.54 L310.61,827.56 L311.82,827.58 L313.04,827.60 L314.26,827.62 L315.47,827.63 L316.69,827.65 L317.91,827.66 L319.13,827.68 L320.34,827.69 L321.56,827.71 L322.78,827.72 L323.99,827.74 L325.21,827.75 L326.43,827.76 L327.65,827.77 L328.86,827.78 L330.08,827.79 L331.30,827.80 L332.52,827.81 L333.73,827.82 L334.95,827.83 L336.17,827.84 L337.38,827.85 L338.60,827.85 L339.82,827.86 L341.04,827.87 L342.25,827.88 L343.47,827.88 L373.90,827.99 L404.33,828.02 L434.76,828.03 L465.19,828.04 L495.62,828.04 L526.05,828.04 L556.48,828.04 L586.91,828.04 L617.34,828.04 L647.77,828.04 L678.20,828.04" stroke="#ec2028"/>
<path d="M69.60,655.64 L69.68,659.50 L69.75,663.31 L69.83,667.08 L69.90,670.81 L69.98,674.50 L70.06,678.15 L70.13,681.76 L70.21,685.33 L70.28,688.86 L70.36,692.35 L70.44,695.80 L70.51,699.22 L70.59,702.59 L70.67,705.93 L70.74,709.23 L70.82,712.50 L70.89,715.73 L70.97,718.92 L71.05,722.08 L71.12,725.20 L71.20,728.28 L71.27,731.33 L71.35,734.35 L71.43,737.33 L71.50,740.28 L71.58,743.19 L71.65,746.07 L71.73,748.92 L71.81,751.74 L71.88,754.52 L71.96,757.27 L72.03,759.99 L72.11,762.68 L72.19,765.34 L72.26,767.97 L72.34,770.57 L72.41,773.13 L72.49,775.67 L72.57,778.17 L72.64,780.65 L72.72,783.10 L72.80,785.52 L72.87,787.91 L72.95,790.28 L73.02,792.61 L73.10,794.92 L73.18,797.20 L73.25,799.45 L73.33,801.68 L73.40,803.88 L73.48,806.05 L73.56,808.20 L73.63,810.32 L73.71,812.41 L73.78,814.48 L73.86,816.53 L73.94,818.55 L74.01,820.54 L74.09,822.51 L74.16,824.46 L74.24,826.38 L74.32,828.28 L74.39,830.16 L74.47,832.01 L74.54,833.84 L74.62,835.65 L74.70,837.43 L74.77,839.19 L74.85,840.93 L74.93,842.65 L75.00,844.34 L75.08,846.02 L75.15,847.67 L75.23,849.30 L75.31,850.91 L75.38,852.50 L75.46,854.07 L75.53,855.62 L75.61,857.15 L75.69,858.66 L75.76,860.15 L75.84,861.62 L75.91,863.08 L75.99,864.51 L76.07,865.92 L76.14,867.31 L76.22,868.69 L76.29,870.05 L76.37,871.39 L76.45,872.71 L76.52,874.01 L76.60,875.30 L76.67,876.57 L76.75,877.82 L76.83,879.05 L76.90,880.27 L76.98,881.47 L77.06,882.65 L77.13,883.82 L77.21,884.97 L77.28,886.10 L77.36,887.22 L77.44,888.33 L77.51,889.41 L77.59,890.48 L77.66,891.54 L77.74,892.58 L77.82,893.61 L77.89,894.62 L77.97,895.61 L78.04,896.60 L78.12,897.56 L78.20,898.52 L78.27,899.46 L78.35,900.38 L78.42,901.29 L78.50,902.19 L78.58,903.07 L78.65,903.94 L78.73,904.80 L78.96,907.29 L79.19,909.67 L79.41,911.93 L79.64,914.09 L79.87,916.14 L80.10,918.09 L80.33,919.95 L80.55,921.70 L80.78,923.37 L81.01,924.94 L81.24,926.43 L81.47,927.83 L81.70,929.15 L81.92,930.39 L82.15,931.56 L82.38,932.65 L82.61,933.67 L82.84,934.62 L83.07,935.50 L83.29,936.32 L83.52,937.08 L83.75,937.77 L83.98,938.41 L84.21,938.98 L84.43,939.51 L84.66,939.98 L84.89,940.40 L85.12,940.76 L85.35,941.09 L85.58,941.36 L85.80,941.59 L86.03,941.78 L86.26,941.92 L86.49,942.02 L86.72,942.09 L86.95,942.12 L87.17,942.11 L87.40,942.07 L87.63,941.99 L87.86,941.88 L88.09,941.74 L88.31,941.57 L88.54,941.37 L88.77,941.14 L89.00,940.89 L89.23,940.61 L89.46,940.30 L89.68,939.97 L89.91,939.62 L90.14,939.25 L90.37,938.86 L90.60,938.44 L90.82,938.01 L91.05,937.55 L91.28,937.08 L91.51,936.60 L91.74,936.09 L91.97,935.58 L92.19,935.04 L92.42,934.49 L92.65,933.93 L92.88,933.36 L93.11,932.77 L93.34,932.18 L93.56,931.57 L93.79,930.95 L94.02,930.32 L94.25,929.68 L94.48,929.03 L94.70,928.37 L94.93,927.71 L95.16,927.04 L95.39,926.36 L95.62,925.68 L95.85,924.99 L96.07,924.29 L96.30,923.59 L96.53,922.88 L96.76,922.17 L96.99,921.45 L97.22,920.73 L97.44,920.01 L97.67,919.28 L97.90,918.55 L98.13,917.82 L98.36,917.09 L98.58,916.35 L98.81,915.61 L99.04,914.87 L99.27,914.13 L99.50,913.39 L99.73,912.65 L99.95,911.91 L100.18,911.16 L100.41,910.42 L100.64,909.68 L100.87,908.94 L101.10,908.20 L101.32,907.45 L101.55,906.71 L101.78,905.98 L102.01,905.24 L102.24,904.50 L102.46,903.77 L102.69,903.03 L102.92,902.30 L103.15,901.57 L103.38,900.85 L103.61,900.12 L103.83,899.40 L104.06,898.68 L104.29,897.96 L104.52,897.25 L104.75,896.54 L104.97,895.83 L105.20,895.13 L105.43,894.42 L105.66,893.72 L105.89,893.03 L106.12,892.34 L106.34,891.65 L106.57,890.96 L106.80,890.28 L107.03,889.60 L107.26,888.93 L107.49,888.26 L107.71,887.59 L107.94,886.93 L108.17,886.27 L108.40,885.62 L108.63,884.96 L108.85,884.32 L109.08,883.68 L109.31,883.04 L109.54,882.40 L109.77,881.77 L110.00,881.15 L110.22,880.53 L110.45,879.91 L110.68,879.30 L110.91,878.69 L111.14,878.08 L111.37,877.48 L111.59,876.89 L111.82,876.30 L112.05,875.71 L112.28,875.13 L112.51,874.55 L112.73,873.98 L112.96,873.41 L113.19,872.84 L113.42,872.28 L113.65,871.73 L113.88,871.18 L114.10,870.63 L114.33,870.09 L114.56,869.55 L114.79,869.02 L115.02,868.49 L115.25,867.97 L115.47,867.45 L115.70,866.93 L115.93,866.42 L116.16,865.91 L116.39,865.41 L116.61,864.91 L116.84,864.42 L117.07,863.93 L117.30,863.45 L117.53,862.97 L117.76,862.49 L117.98,862.02 L118.21,861.55 L118.44,861.09 L118.67,860.63 L118.90,860.18 L119.12,859.73 L119.35,859.28 L119.58,858.84 L119.81,858.40 L120.04,857.97 L120.27,857.54 L120.49,857.12 L120.72,856.70 L120.95,856.28 L121.18,855.87 L121.41,855.46 L121.64,855.05 L121.86,854.65 L122.09,854.26 L122.32,853.86 L122.55,853.48 L122.78,853.09 L123.00,852.71 L123.23,852.33 L123.46,851.96 L123.69,851.59 L123.92,851.22 L124.15,850.86 L124.37,850.50 L124.60,850.15 L124.83,849.80 L125.06,849.45 L125.29,849.11 L125.52,848.77 L125.74,848.43 L125.97,848.10 L126.20,847.77 L126.43,847.45 L126.66,847.12 L126.88,846.81 L127.11,846.49 L127.34,846.18 L127.57,845.87 L127.80,845.57 L128.03,845.26 L128.25,844.97 L128.48,844.67 L128.71,844.38 L128.94,844.09 L129.17,843.81 L129.39,843.52 L129.62,843.24 L129.85,842.97 L130.08,842.70 L130.31,842.43 L130.46,842.25 L131.68,840.87 L132.89,839.58 L134.11,838.36 L135.33,837.22 L136.55,836.16 L137.76,835.16 L138.98,834.23 L140.20,833.35 L141.41,832.54 L142.63,831.78 L143.85,831.08 L145.07,830.43 L146.28,829.82 L147.50,829.26 L148.72,828.74 L149.94,828.26 L151.15,827.82 L152.37,827.41 L153.59,827.04 L154.80,826.70 L156.02,826.39 L157.24,826.10 L158.46,825.85 L159.67,825.62 L160.89,825.41 L162.11,825.22 L163.32,825.06 L164.54,824.91 L165.76,824.78 L166.98,824.67 L168.19,824.57 L169.41,824.49 L170.63,824.42 L171.84,824.36 L173.06,824.32 L174.28,824.28 L175.50,824.26 L176.71,824.25 L177.93,824.24 L179.15,824.24 L180.37,824.25 L181.58,824.27 L182.80,824.29 L184.02,824.32 L185.23,824.35 L186.45,824.39 L187.67,824.43 L188.89,824.48 L190.10,824.53 L191.32,824.58 L192.54,824.64 L193.75,824.69 L194.97,824.75 L196.19,824.82 L197.41,824.88 L198.62,824.94 L199.84,825.01 L201.06,825.08 L202.27,825.14 L203.49,825.21 L204.71,825.28 L205.93,825.35 L207.14,825.42 L208.36,825.49 L209.58,825.56 L210.80,825.62 L212.01,825.69 L213.23,825.76 L214.45,825.83 L215.66,825.89 L216.88,825.96 L218.10,826.02 L219.32,826.09 L220.53,826.15 L221.75,826.21 L222.97,826.27 L224.18,826.33 L225.40,826.39 L226.62,826.45 L227.84,826.51 L229.05,826.56 L230.27,826.62 L231.49,826.67 L232.70,826.72 L233.92,826.77 L235.14,826.82 L236.36,826.87 L237.57,826.92 L238.79,826.97 L240.01,827.01 L241.23,827.06 L242.44,827.10 L243.66,827.14 L244.88,827.18 L246.09,827.22 L247.31,827.26 L248.53,827.30 L249.75,827.33 L250.96,827.37 L252.18,827.40 L253.40,827.43 L254.61,827.47 L255.83,827.50 L257.05,827.53 L258.27,827.56 L259.48,827.58 L260.70,827.61 L261.92,827.64 L263.13,827.66 L264.35,827.69 L265.57,827.71 L266.79,827.73 L268.00,827.75 L269.22,827.78 L270.44,827.80 L271.66,827.82 L272.87,827.83 L274.09,827.85 L275.31,827.87 L276.52,827.89 L277.74,827.90 L278.96,827.92 L280.18,827.93 L281.39,827.95 L282.61,827.96 L283.83,827.97 L285.04,827.99 L286.26,828.00 L287.48,828.01 L288.70,828.02 L289.91,828.03 L291.13,828.04 L292.35,828.05 L293.56,828.06 L294.78,828.07 L296.00,828.07 L297.22,828.08 L298.43,828.09 L299.65,828.10 L300.87,828.10 L302.09,828.11 L303.30,828.11 L304.52,828.12 L305.74,828.13 L306.95,828.13 L308.17,828.13 L309.39,828.14 L310.61,828.14 L311.82,828.15 L313.04,828.15 L314.26,828.15 L315.47,828.16 L316.69,828.16 L317.91,828.16 L319.13,828.16 L320.34,828.17 L321.56,828.17 L322.78,828.17 L323.99,828.17 L325.21,828.17 L326.43,828.17 L327.65,828.17 L328.86,828.18 L330.08,828.18 L331.30,828.18 L332.52,828.18 L333.73,828.18 L334.95,828.18 L336.17,828.18 L337.38,828.18 L338.60,828.18 L339.82,828.18 L341.04,828.18 L342.25,828.18 L343.47,828.18 L373.90,828.15 L404.33,828.12 L434.76,828.09 L465.19,828.07 L495.62,828.06 L526.05,828.05 L556.48,828.04 L586.91,828.04 L617.34,828.04 L647.77,828.04 L678.20,828.04" stroke="#46b45a"/>
<path d="M69.60,775.57 L69.68,776.60 L69.75,777.64 L69.83,778.69 L69.90,779.76 L69.98,780.83 L70.06,781.92 L70.13,783.01 L70.21,784.12 L70.28,785.23 L70.36,786.36 L70.44,787.49 L70.51,788.63 L70.59,789.78 L70.67,790.94 L70.74,792.11 L70.82,793.28 L70.89,794.46 L70.97,795.64 L71.05,796.84 L71.12,798.04 L71.20,799.24 L71.27,800.45 L71.35,801.67 L71.43,802.89 L71.50,804.11 L71.58,805.34 L71.65,806.57 L71.73,807.81 L71.81,809.05 L71.88,810.30 L71.96,811.55 L72.03,812.80 L72.11,814.06 L72.19,815.31 L72.26,816.57 L72.34,817.84 L72.41,819.10 L72.49,820.37 L72.57,821.64 L72.64,822.91 L72.72,824.18 L72.80,825.45 L72.87,826.72 L72.95,828.00 L73.02,829.27 L73.10,830.55 L73.18,831.82 L73.25,833.10 L73.33,834.37 L73.40,835.65 L73.48,836.92 L73.56,838.19 L73.63,839.47 L73.71,840.74 L73.78,842.01 L73.86,843.28 L73.94,844.55 L74.01,845.82 L74.09,847.08 L74.16,848.35 L74.24,849.61 L74.32,850.87 L74.39,852.13 L74.47,853.39 L74.54,854.64 L74.62,855.90 L74.70,857.15 L74.77,858.39 L74.85,859.64 L74.93,860.88 L75.00,862.12 L75.08,863.36 L75.15,864.59 L75.23,865.82 L75.31,867.04 L75.38,868.27 L75.46,869.49 L75.53,870.70 L75.61,871.92 L75.69,873.13 L75.76,874.33 L75.84,875.53 L75.91,876.73 L75.99,877.93 L76.07,879.12 L76.14,880.30 L76.22,881.48 L76.29,882.66 L76.37,883.83 L76.45,885.00 L76.52,886.17 L76.60,887.33 L76.67,888.48 L76.75,889.63 L76.83,890.78 L76.90,891.92 L76.98,893.06 L77.06,894.19 L77.13,895.31 L77.21,896.44 L77.28,897.55 L77.36,898.67 L77.44,899.77 L77.51,900.87 L77.59,901.97 L77.66,903.06 L77.74,904.15 L77.82,905.23 L77.89,906.31 L77.97,907.38 L78.04,908.44 L78.12,909.51 L78.20,910.56 L78.27,911.61 L78.35,912.65 L78.42,913.69 L78.50,914.73 L78.58,915.75 L78.65,916.78 L78.73,917.79 L78.96,920.81 L79.19,923.78 L79.41,926.69 L79.64,929.55 L79.87,932.37 L80.10,935.13 L80.33,937.83 L80.55,940.49 L80.78,943.09 L81.01,945.65 L81.24,948.14 L81.47,950.59 L81.70,952.99 L81.92,955.33 L82.15,957.62 L82.38,959.86 L82.61,962.05 L82.84,964.19 L83.07,966.27 L83.29,968.31 L83.52,970.30 L83.75,972.23 L83.98,974.12 L84.21,975.96 L84.43,977.75 L84.66,979.50 L84.89,981.19 L85.12,982.84 L85.35,984.44 L85.58,986.00 L85.80,987.51 L86.03,988.98 L86.26,990.40 L86.49,991.78 L86.72,993.12 L86.95,994.42 L87.17,995.67 L87.40,996.88 L87.63,998.05 L87.86,999.18 L88.09,1000.27 L88.31,1001.32 L88.54,1002.33 L88.77,1003.31 L89.00,1004.25 L89.23,1005.15 L89.46,1006.01 L89.68,1006.84 L89.91,1007.64 L90.14,1008.40 L90.37,1009.12 L90.60,1009.82 L90.82,1010.48 L91.05,1011.11 L91.28,1011.70 L91.51,1012.27 L91.74,1012.80 L91.97,1013.31 L92.19,1013.79 L92.42,1014.23 L92.65,1014.65 L92.88,1015.04 L93.11,1015.41 L93.34,1015.75 L93.56,1016.06 L93.79,1016.34 L94.02,1016.60 L94.25,1016.84 L94.48,1017.05 L94.70,1017.24 L94.93,1017.41 L95.16,1017.55 L95.39,1017.67 L95.62,1017.77 L95.85,1017.84 L96.07,1017.90 L96.30,1017.93 L96.53,1017.95 L96.76,1017.94 L96.99,1017.92 L97.22,1017.88 L97.44,1017.82 L97.67,1017.74 L97.90,1017.64 L98.13,1017.53 L98.36,1017.39 L98.58,1017.25 L98.81,1017.08 L99.04,1016.90 L99.27,1016.71 L99.50,1016.50 L99.73,1016.28 L99.95,1016.04 L100.18,1015.79 L100.41,1015.52 L100.64,1015.24 L100.87,1014.95 L101.10,1014.64 L101.32,1014.33 L101.55,1014.00 L101.78,1013.66 L102.01,1013.30 L102.24,1012.94 L102.46,1012.56 L102.69,1012.18 L102.92,1011.78 L103.15,1011.38 L103.38,1010.96 L103.61,1010.54 L103.83,1010.10 L104.06,1009.66 L104.29,1009.21 L104.52,1008.74 L104.75,1008.28 L104.97,1007.80 L105.20,1007.31 L105.43,1006.82 L105.66,1006.32 L105.89,1005.81 L106.12,1005.30 L106.34,1004.78 L106.57,1004.25 L106.80,1003.72 L107.03,1003.18 L107.26,1002.63 L107.49,1002.08 L107.71,1001.52 L107.94,1000.96 L108.17,1000.39 L108.40,999.81 L108.63,999.24 L108.85,998.65 L109.08,998.06 L109.31,997.47 L109.54,996.88 L109.77,996.28 L110.00,995.67 L110.22,995.06 L110.45,994.45 L110.68,993.83 L110.91,993.22 L111.14,992.59 L111.37,991.97 L111.59,991.34 L111.82,990.71 L112.05,990.08 L112.28,989.44 L112.51,988.80 L112.73,988.16 L112.96,987.52 L113.19,986.87 L113.42,986.22 L113.65,985.57 L113.88,984.92 L114.10,984.27 L114.33,983.61 L114.56,982.96 L114.79,982.30 L115.02,981.64 L115.25,980.98 L115.47,980.32 L115.70,979.66 L115.93,978.99 L116.16,978.33 L116.39,977.67 L116.61,977.00 L116.84,976.33 L117.07,975.67 L117.30,975.00 L117.53,974.33 L117.76,973.67 L117.98,973.00 L118.21,972.33 L118.44,971.66 L118.67,970.99 L118.90,970.32 L119.12,969.66 L119.35,968.99 L119.58,968.32 L119.81,967.65 L120.04,966.99 L120.27,966.32 L120.49,965.65 L120.72,964.99 L120.95,964.32 L121.18,963.66 L121.41,963.00 L121.64,962.33 L121.86,961.67 L122.09,961.01 L122.32,960.35 L122.55,959.69 L122.78,959.03 L123.00,958.37 L123.23,957.72 L123.46,957.06 L123.69,956.41 L123.92,955.75 L124.15,955.10 L124.37,954.45 L124.60,953.80 L124.83,953.15 L125.06,952.51 L125.29,951.86 L125.52,951.22 L125.74,950.57 L125.97,949.93 L126.20,949.29 L126.43,948.66 L126.66,948.02 L126.88,947.38 L127.11,946.75 L127.34,946.12 L127.57,945.49 L127.80,944.86 L128.03,944.24 L128.25,943.61 L128.48,942.99 L128.71,942.37 L128.94,941.75 L129.17,941.13 L129.39,940.51 L129.62,939.90 L129.85,939.29 L130.08,938.68 L130.31,938.07 L130.46,937.67 L131.68,934.46 L132.89,931.32 L134.11,928.23 L135.33,925.21 L136.55,922.25 L137.76,919.35 L138.98,916.52 L140.20,913.75 L141.41,911.05 L142.63,908.42 L143.85,905.84 L145.07,903.34 L146.28,900.89 L147.50,898.52 L148.72,896.20 L149.94,893.95 L151.15,891.76 L152.37,889.63 L153.59,887.56 L154.80,885.55 L156.02,883.60 L157.24,881.70 L158.46,879.86 L159.67,878.08 L160.89,876.35 L162.11,874.67 L163.32,873.04 L164.54,871.47 L165.76,869.94 L166.98,868.47 L168.19,867.03 L169.41,865.65 L170.63,864.31 L171.84,863.01 L173.06,861.76 L174.28,860.54 L175.50,859.37 L176.71,858.23 L177.93,857.14 L179.15,856.07 L180.37,855.05 L181.58,854.06 L182.80,853.10 L184.02,852.18 L185.23,851.29 L186.45,850.43 L187.67,849.60 L188.89,848.79 L190.10,848.02 L191.32,847.27 L192.54,846.55 L193.75,845.86 L194.97,845.19 L196.19,844.54 L197.41,843.92 L198.62,843.32 L199.84,842.74 L201.06,842.18 L202.27,841.64 L203.49,841.12 L204.71,840.62 L205.93,840.14 L207.14,839.67 L208.36,839.23 L209.58,838.80 L210.80,838.38 L212.01,837.98 L213.23,837.60 L214.45,837.23 L215.66,836.87 L216.88,836.53 L218.10,836.20 L219.32,835.88 L220.53,835.57 L221.75,835.28 L222.97,834.99 L224.18,834.72 L225.40,834.46 L226.62,834.21 L227.84,833.96 L229.05,833.73 L230.27,833.51 L231.49,833.29 L232.70,833.08 L233.92,832.88 L235.14,832.69 L236.36,832.50 L237.57,832.33 L238.79,832.16 L240.01,831.99 L241.23,831.83 L242.44,831.68 L243.66,831.54 L244.88,831.40 L246.09,831.26 L247.31,831.13 L248.53,831.01 L249.75,830.89 L250.96,830.78 L252.18,830.67 L253.40,830.56 L254.61,830.46 L255.83,830.36 L257.05,830.27 L258.27,830.18 L259.48,830.09 L260.70,830.01 L261.92,829.93 L263.13,829.85 L264.35,829.78 L265.57,829.71 L266.79,829.64 L268.00,829.57 L269.22,829.51 L270.44,829.45 L271.66,829.39 L272.87,829.34 L274.09,829.28 L275.31,829.23 L276.52,829.18 L277.74,829.14 L278.96,829.09 L280.18,829.05 L281.39,829.01 L282.61,828.97 L283.83,828.93 L285.04,828.89 L286.26,828.86 L287.48,828.82 L288.70,828.79 L289.91,828.76 L291.13,828.73 L292.35,828.70 L293.56,828.68 L294.78,828.65 L296.00,828.62 L297.22,828.60 L298.43,828.58 L299.65,828.55 L300.87,828.53 L302.09,828.51 L303.30,828.49 L304.52,828.47 L305.74,828.46 L306.95,828.44 L308.17,828.42 L309.39,828.41 L310.61,828.39 L311.82,828.38 L313.04,828.36 L314.26,828.35 L315.47,828.34 L316.69,828.32 L317.91,828.31 L319.13,828.30 L320.34,828.29 L321.56,828.28 L322.78,828.27 L323.99,828.26 L325.21,828.25 L326.43,828.24 L327.65,828.23 L328.86,828.22 L330.08,828.22 L331.30,828.21 L332.52,828.20 L333.73,828.20 L334.95,828.19 L336.17,828.18 L337.38,828.18 L338.60,828.17 L339.82,828.17 L341.04,828.16 L342.25,828.15 L343.47,828.15 L373.90,828.08 L404.33,828.05 L434.76,828.04 L465.19,828.04 L495.62,828.04 L526.05,828.04 L556.48,828.04 L586.91,828.04 L617.34,828.04 L647.77,828.04 L678.20,828.04" stroke="#5fc4bd"/>
<path d="M69.60,919.01 L69.68,917.79 L69.75,916.57 L69.83,915.36 L69.90,914.16 L69.98,912.96 L70.06,911.76 L70.13,910.57 L70.21,909.39 L70.28,908.21 L70.36,907.03 L70.44,905.86 L70.51,904.70 L70.59,903.54 L70.67,902.38 L70.74,901.23 L70.82,900.09 L70.89,898.95 L70.97,897.81 L71.05,896.68 L71.12,895.56 L71.20,894.44 L71.27,893.33 L71.35,892.22 L71.43,891.12 L71.50,890.02 L71.58,888.92 L71.65,887.84 L71.73,886.75 L71.81,885.68 L71.88,884.61 L71.96,883.54 L72.03,882.48 L72.11,881.42 L72.19,880.37 L72.26,879.33 L72.34,878.29 L72.41,877.25 L72.49,876.22 L72.57,875.20 L72.64,874.18 L72.72,873.17 L72.80,872.16 L72.87,871.16 L72.95,870.16 L73.02,869.17 L73.10,868.18 L73.18,867.20 L73.25,866.23 L73.33,865.26 L73.40,864.29 L73.48,863.33 L73.56,862.38 L73.63,861.43 L73.71,860.48 L73.78,859.55 L73.86,858.61 L73.94,857.69 L74.01,856.76 L74.09,855.85 L74.16,854.94 L74.24,854.03 L74.32,853.13 L74.39,852.23 L74.47,851.34 L74.54,850.46 L74.62,849.58 L74.70,848.71 L74.77,847.84 L74.85,846.98 L74.93,846.12 L75.00,845.27 L75.08,844.42 L75.15,843.58 L75.23,842.74 L75.31,841.91 L75.38,841.08 L75.46,840.26 L75.53,839.45 L75.61,838.64 L75.69,837.83 L75.76,837.03 L75.84,836.24 L75.91,835.45 L75.99,834.66 L76.07,833.88 L76.14,833.11 L76.22,832.34 L76.29,831.58 L76.37,830.82 L76.45,830.07 L76.52,829.32 L76.60,828.58 L76.67,827.84 L76.75,827.11 L76.83,826.38 L76.90,825.66 L76.98,824.94 L77.06,824.23 L77.13,823.53 L77.21,822.82 L77.28,822.13 L77.36,821.44 L77.44,820.75 L77.51,820.07 L77.59,819.39 L77.66,818.72 L77.74,818.05 L77.82,817.39 L77.89,816.73 L77.97,816.08 L78.04,815.44 L78.12,814.79 L78.20,814.16 L78.27,813.53 L78.35,812.90 L78.42,812.28 L78.50,811.66 L78.58,811.05 L78.65,810.44 L78.73,809.84 L78.96,808.06 L79.19,806.32 L79.41,804.63 L79.64,802.97 L79.87,801.36 L80.10,799.79 L80.33,798.26 L80.55,796.78 L80.78,795.33 L81.01,793.92 L81.24,792.55 L81.47,791.22 L81.70,789.93 L81.92,788.67 L82.15,787.45 L82.38,786.27 L82.61,785.13 L82.84,784.02 L83.07,782.94 L83.29,781.91 L83.52,780.90 L83.75,779.93 L83.98,779.00 L84.21,778.09 L84.43,777.22 L84.66,776.39 L84.89,775.58 L85.12,774.80 L85.35,774.06 L85.58,773.35 L85.80,772.66 L86.03,772.01 L86.26,771.38 L86.49,770.79 L86.72,770.22 L86.95,769.68 L87.17,769.16 L87.40,768.67 L87.63,768.21 L87.86,767.78 L88.09,767.37 L88.31,766.98 L88.54,766.62 L88.77,766.28 L89.00,765.97 L89.23,765.68 L89.46,765.42 L89.68,765.17 L89.91,764.95 L90.14,764.75 L90.37,764.57 L90.60,764.41 L90.82,764.27 L91.05,764.15 L91.28,764.05 L91.51,763.97 L91.74,763.91 L91.97,763.86 L92.19,763.84 L92.42,763.83 L92.65,763.84 L92.88,763.86 L93.11,763.90 L93.34,763.96 L93.56,764.04 L93.79,764.13 L94.02,764.23 L94.25,764.35 L94.48,764.48 L94.70,764.63 L94.93,764.79 L95.16,764.96 L95.39,765.15 L95.62,765.35 L95.85,765.56 L96.07,765.79 L96.30,766.02 L96.53,766.27 L96.76,766.53 L96.99,766.80 L97.22,767.08 L97.44,767.37 L97.67,767.67 L97.90,767.98 L98.13,768.30 L98.36,768.63 L98.58,768.96 L98.81,769.31 L99.04,769.66 L99.27,770.02 L99.50,770.39 L99.73,770.77 L99.95,771.16 L100.18,771.55 L100.41,771.95 L100.64,772.35 L100.87,772.76 L101.10,773.18 L101.32,773.60 L101.55,774.03 L101.78,774.47 L102.01,774.91 L102.24,775.35 L102.46,775.80 L102.69,776.26 L102.92,776.72 L103.15,777.18 L103.38,777.65 L103.61,778.12 L103.83,778.59 L104.06,779.07 L104.29,779.55 L104.52,780.04 L104.75,780.52 L104.97,781.02 L105.20,781.51 L105.43,782.00 L105.66,782.50 L105.89,783.00 L106.12,783.50 L106.34,784.01 L106.57,784.51 L106.80,785.02 L107.03,785.53 L107.26,786.04 L107.49,786.55 L107.71,787.06 L107.94,787.58 L108.17,788.09 L108.40,788.60 L108.63,789.12 L108.85,789.63 L109.08,790.15 L109.31,790.67 L109.54,791.18 L109.77,791.70 L110.00,792.21 L110.22,792.73 L110.45,793.24 L110.68,793.76 L110.91,794.27 L111.14,794.78 L111.37,795.30 L111.59,795.81 L111.82,796.32 L112.05,796.83 L112.28,797.34 L112.51,797.84 L112.73,798.35 L112.96,798.85 L113.19,799.36 L113.42,799.86 L113.65,800.36 L113.88,800.86 L114.10,801.35 L114.33,801.85 L114.56,802.34 L114.79,802.83 L115.02,803.32 L115.25,803.81 L115.47,804.29 L115.70,804.78 L115.93,805.26 L116.16,805.73 L116.39,806.21 L116.61,806.68 L116.84,807.16 L117.07,807.62 L117.30,808.09 L117.53,808.55 L117.76,809.02 L117.98,809.47 L118.21,809.93 L118.44,810.38 L118.67,810.83 L118.90,811.28 L119.12,811.73 L119.35,812.17 L119.58,812.61 L119.81,813.04 L120.04,813.48 L120.27,813.91 L120.49,814.34 L120.72,814.76 L120.95,815.18 L121.18,815.60 L121.41,816.02 L121.64,816.43 L121.86,816.84 L122.09,817.24 L122.32,817.65 L122.55,818.05 L122.78,818.44 L123.00,818.84 L123.23,819.23 L123.46,819.61 L123.69,820.00 L123.92,820.38 L124.15,820.76 L124.37,821.13 L124.60,821.50 L124.83,821.87 L125.06,822.23 L125.29,822.59 L125.52,822.95 L125.74,823.30 L125.97,823.66 L126.20,824.00 L126.43,824.35 L126.66,824.69 L126.88,825.03 L127.11,825.36 L127.34,825.69 L127.57,826.02 L127.80,826.34 L128.03,826.67 L128.25,826.98 L128.48,827.30 L128.71,827.61 L128.94,827.92 L129.17,828.22 L129.39,828.53 L129.62,828.82 L129.85,829.12 L130.08,829.41 L130.31,829.70 L130.46,829.89 L131.68,831.36 L132.89,832.74 L134.11,834.04 L135.33,835.24 L136.55,836.37 L137.76,837.41 L138.98,838.37 L140.20,839.25 L141.41,840.06 L142.63,840.79 L143.85,841.46 L145.07,842.06 L146.28,842.60 L147.50,843.08 L148.72,843.51 L149.94,843.87 L151.15,844.19 L152.37,844.46 L153.59,844.68 L154.80,844.86 L156.02,845.00 L157.24,845.10 L158.46,845.16 L159.67,845.19 L160.89,845.19 L162.11,845.16 L163.32,845.10 L164.54,845.01 L165.76,844.91 L166.98,844.78 L168.19,844.63 L169.41,844.47 L170.63,844.29 L171.84,844.09 L173.06,843.88 L174.28,843.66 L175.50,843.43 L176.71,843.19 L177.93,842.94 L179.15,842.68 L180.37,842.41 L181.58,842.14 L182.80,841.87 L184.02,841.59 L185.23,841.31 L186.45,841.03 L187.67,840.75 L188.89,840.46 L190.10,840.18 L191.32,839.89 L192.54,839.61 L193.75,839.33 L194.97,839.05 L196.19,838.77 L197.41,838.49 L198.62,838.22 L199.84,837.95 L201.06,837.69 L202.27,837.42 L203.49,837.16 L204.71,836.91 L205.93,836.66 L207.14,836.41 L208.36,836.17 L209.58,835.93 L210.80,835.69 L212.01,835.47 L213.23,835.24 L214.45,835.02 L215.66,834.81 L216.88,834.60 L218.10,834.39 L219.32,834.19 L220.53,834.00 L221.75,833.81 L222.97,833.62 L224.18,833.44 L225.40,833.26 L226.62,833.09 L227.84,832.92 L229.05,832.76 L230.27,832.60 L231.49,832.45 L232.70,832.30 L233.92,832.16 L235.14,832.01 L236.36,831.88 L237.57,831.74 L238.79,831.62 L240.01,831.49 L241.23,831.37 L242.44,831.25 L243.66,831.14 L244.88,831.03 L246.09,830.92 L247.31,830.82 L248.53,830.72 L249.75,830.62 L250.96,830.53 L252.18,830.44 L253.40,830.35 L254.61,830.26 L255.83,830.18 L257.05,830.10 L258.27,830.03 L259.48,829.95 L260.70,829.88 L261.92,829.81 L263.13,829.75 L264.35,829.68 L265.57,829.62 L266.79,829.56 L268.00,829.50 L269.22,829.45 L270.44,829.39 L271.66,829.34 L272.87,829.29 L274.09,829.24 L275.31,829.20 L276.52,829.15 L277.74,829.11 L278.96,829.07 L280.18,829.03 L281.39,828.99 L282.61,828.95 L283.83,828.91 L285.04,828.88 L286.26,828.85 L287.48,828.82 L288.70,828.78 L289.91,828.76 L291.13,828.73 L292.35,828.70 L293.56,828.67 L294.78,828.65 L296.00,828.62 L297.22,828.60 L298.43,828.58 L299.65,828.56 L300.87,828.54 L302.09,828.52 L303.30,828.50 L304.52,828.48 L305.74,828.46 L306.95,828.44 L308.17,828.43 L309.39,828.41 L310.61,828.40 L311.82,828.38 L313.04,828.37 L314.26,828.35 L315.47,828.34 L316.69,828.33 L317.91,828.32 L319.13,828.30 L320.34,828.29 L321.56,828.28 L322.78,828.27 L323.99,828.26 L325.21,828.25 L326.43,828.25 L327.65,828.24 L328.86,828.23 L330.08,828.22 L331.30,828.21 L332.52,828.21 L333.73,828.20 L334.95,828.19 L336.17,828.19 L337.38,828.18 L338.60,828.17 L339.82,828.17 L341.04,828.16 L342.25,828.16 L343.47,828.15 L373.90,828.08 L404.33,828.05 L434.76,828.04 L465.19,828.04 L495.62,828.04 L526.05,828.04 L556.48,828.04 L586.91,828.04 L617.34,828.04 L647.77,828.04 L678.20,828.04" stroke="#ae4a98"/>
</g>
<g font-size="19.2">
<text x="69.00" y="1102.50" text-anchor="middle">0</text>
<text x="145.08" y="1102.50" text-anchor="middle">0.5</text>
<text x="221.15" y="1102.50" text-anchor="middle">1</text>
<text x="297.23" y="1102.50" text-anchor="middle">1.5</text>
<text x="373.30" y="1102.50" text-anchor="middle">2</text>
<text x="449.38" y="1102.50" text-anchor="middle">2.5</text>
<text x="525.45" y="1102.50" text-anchor="middle">3</text>
<text x="601.52" y="1102.50" text-anchor="middle">3.5</text>
<text x="677.60" y="1102.50" text-anchor="middle">4</text>
<text x="61.40" y="1082.85" text-anchor="end">-1.5</text>
<text x="61.40" y="1022.88" text-anchor="end">-1</text>
<text x="61.40" y="962.91" text-anchor="end">-0.5</text>
<text x="61.40" y="902.95" text-anchor="end">0</text>
<text x="61.40" y="842.98" text-anchor="end">0.5</text>
<text x="61.40" y="783.02" text-anchor="end">1</text>
<text x="61.40" y="723.05" text-anchor="end">1.5</text>
<text x="61.40" y="663.09" text-anchor="end">2</text>
<text x="61.40" y="603.12" text-anchor="end">2.5</text>
</g>
<text x="373.95" y="1128.70" font-size="20.4" text-anchor="middle">time<tspan dx="1.1">(sec)</tspan></text>
<text transform="translate(17.9,835.90) rotate(-90)" font-size="20.7" text-anchor="middle">State variables</text>
<rect x="567.5" y="610.90" width="95.60000000000002" height="153.20" fill="#ffffff" stroke="#38383b" stroke-width="1.15"/>
<path d="M573,627.80 H629.5" stroke="#1f46a6" stroke-width="2.7" fill="none"/>
<text x="633.8" y="632.00" font-size="16.4">x<tspan dy="7.2" font-size="13.4" dx="0.3">12</tspan></text>
<path d="M573,657.80 H629.5" stroke="#ec2028" stroke-width="2.9" fill="none"/>
<text x="633.8" y="662.00" font-size="16.4">x<tspan dy="7.2" font-size="13.4" dx="0.3">22</tspan></text>
<path d="M573,688.10 H629.5" stroke="#46b45a" stroke-width="3.5" fill="none"/>
<text x="633.8" y="692.30" font-size="16.4">x<tspan dy="7.2" font-size="13.4" dx="0.3">32</tspan></text>
<path d="M573,717.50 H629.5" stroke="#5fc4bd" stroke-width="2.7" fill="none"/>
<text x="633.8" y="721.70" font-size="16.4">x<tspan dy="7.2" font-size="13.4" dx="0.3">42</tspan></text>
<path d="M573,747.30 H629.5" stroke="#ae4a98" stroke-width="3.0" fill="none"/>
<text x="633.8" y="751.50" font-size="16.4">x<tspan dy="7.2" font-size="13.4" dx="0.3">52</tspan></text>
</g>
</svg>
</body></html>
